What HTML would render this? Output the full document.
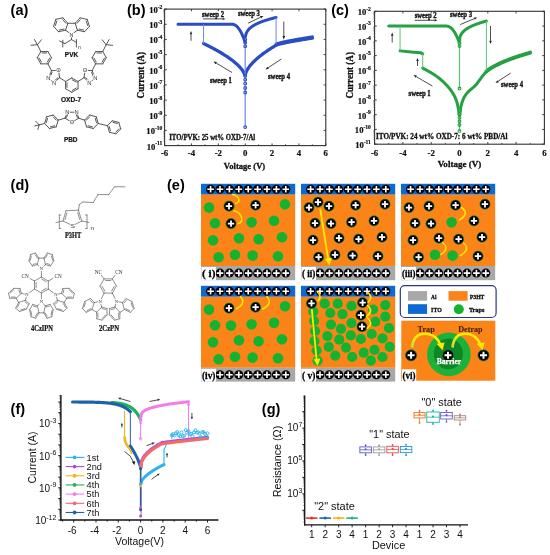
<!DOCTYPE html>
<html><head><meta charset="utf-8"><style>
html,body{margin:0;padding:0;background:#fff;}
svg{display:block;}
</style></head><body>
<svg width="550" height="555" viewBox="0 0 550 555">
<rect width="550" height="555" fill="#fff"/>
<text x="10.60" y="14.70" font-family='"Liberation Sans", Arial, sans-serif' font-size="14.5" font-weight="bold" text-anchor="start" fill="#000" >(a)</text>
<text x="127.00" y="14.70" font-family='"Liberation Sans", Arial, sans-serif' font-size="14.5" font-weight="bold" text-anchor="start" fill="#000" >(b)</text>
<text x="331.20" y="14.60" font-family='"Liberation Sans", Arial, sans-serif' font-size="14.5" font-weight="bold" text-anchor="start" fill="#000" >(c)</text>
<text x="10.60" y="189.70" font-family='"Liberation Sans", Arial, sans-serif' font-size="14.5" font-weight="bold" text-anchor="start" fill="#000" >(d)</text>
<text x="167.00" y="189.50" font-family='"Liberation Sans", Arial, sans-serif' font-size="14.5" font-weight="bold" text-anchor="start" fill="#000" >(e)</text>
<text x="10.60" y="413.80" font-family='"Liberation Sans", Arial, sans-serif' font-size="14.5" font-weight="bold" text-anchor="start" fill="#000" >(f)</text>
<text x="261.80" y="413.60" font-family='"Liberation Sans", Arial, sans-serif' font-size="14.5" font-weight="bold" text-anchor="start" fill="#000" >(g)</text>
<defs><g id="pc"><circle r="4.5" fill="#000"/><path d="M-3.3,0H3.3M0,-3.3V3.3" stroke="#fff" stroke-width="1.6"/></g><g id="pb"><circle r="5.1" fill="#000" stroke="#1b8a30" stroke-width="0.6"/><path d="M-3.2,0H3.2M0,-3.2V3.2" stroke="#fff" stroke-width="1.8"/></g><circle id="gc" r="5.3" fill="#14b231"/><linearGradient id="yg" x1="0" y1="0" x2="1" y2="0"><stop offset="0" stop-color="#d4ec50"/><stop offset="1" stop-color="#ffe600"/></linearGradient></defs>
<rect x="201.00" y="183.80" width="94.20" height="10.90" fill="#0d6ad2" />
<rect x="201.00" y="194.70" width="94.20" height="71.30" fill="#fb8419" />
<rect x="201.00" y="266.00" width="94.20" height="14.20" fill="#a8a8a8" />
<use href="#pc" x="210.60" y="189.25"/>
<use href="#pc" x="220.00" y="189.25"/>
<use href="#pc" x="229.40" y="189.25"/>
<use href="#pc" x="238.80" y="189.25"/>
<use href="#pc" x="248.20" y="189.25"/>
<use href="#pc" x="257.60" y="189.25"/>
<use href="#pc" x="267.00" y="189.25"/>
<use href="#pc" x="276.40" y="189.25"/>
<use href="#pc" x="285.80" y="189.25"/>
<use href="#pc" x="220.00" y="273.10"/>
<use href="#pc" x="229.40" y="273.10"/>
<use href="#pc" x="238.80" y="273.10"/>
<use href="#pc" x="248.20" y="273.10"/>
<use href="#pc" x="257.60" y="273.10"/>
<use href="#pc" x="267.00" y="273.10"/>
<use href="#pc" x="276.40" y="273.10"/>
<use href="#pc" x="285.80" y="273.10"/>
<rect x="201.40" y="267.00" width="14.60" height="13.20" fill="#fff" />
<rect x="301.00" y="183.80" width="94.20" height="10.90" fill="#0d6ad2" />
<rect x="301.00" y="194.70" width="94.20" height="71.30" fill="#fb8419" />
<rect x="301.00" y="266.00" width="94.20" height="14.20" fill="#a8a8a8" />
<use href="#pc" x="310.60" y="189.25"/>
<use href="#pc" x="320.00" y="189.25"/>
<use href="#pc" x="329.40" y="189.25"/>
<use href="#pc" x="338.80" y="189.25"/>
<use href="#pc" x="348.20" y="189.25"/>
<use href="#pc" x="357.60" y="189.25"/>
<use href="#pc" x="367.00" y="189.25"/>
<use href="#pc" x="376.40" y="189.25"/>
<use href="#pc" x="385.80" y="189.25"/>
<use href="#pc" x="320.00" y="273.10"/>
<use href="#pc" x="329.40" y="273.10"/>
<use href="#pc" x="338.80" y="273.10"/>
<use href="#pc" x="348.20" y="273.10"/>
<use href="#pc" x="357.60" y="273.10"/>
<use href="#pc" x="367.00" y="273.10"/>
<use href="#pc" x="376.40" y="273.10"/>
<use href="#pc" x="385.80" y="273.10"/>
<rect x="301.40" y="267.00" width="14.60" height="13.20" fill="#fff" />
<rect x="401.00" y="183.80" width="94.20" height="10.90" fill="#0d6ad2" />
<rect x="401.00" y="194.70" width="94.20" height="71.30" fill="#fb8419" />
<rect x="401.00" y="266.00" width="94.20" height="14.20" fill="#a8a8a8" />
<use href="#pc" x="410.60" y="189.25"/>
<use href="#pc" x="420.00" y="189.25"/>
<use href="#pc" x="429.40" y="189.25"/>
<use href="#pc" x="438.80" y="189.25"/>
<use href="#pc" x="448.20" y="189.25"/>
<use href="#pc" x="457.60" y="189.25"/>
<use href="#pc" x="467.00" y="189.25"/>
<use href="#pc" x="476.40" y="189.25"/>
<use href="#pc" x="485.80" y="189.25"/>
<use href="#pc" x="420.00" y="273.10"/>
<use href="#pc" x="429.40" y="273.10"/>
<use href="#pc" x="438.80" y="273.10"/>
<use href="#pc" x="448.20" y="273.10"/>
<use href="#pc" x="457.60" y="273.10"/>
<use href="#pc" x="467.00" y="273.10"/>
<use href="#pc" x="476.40" y="273.10"/>
<use href="#pc" x="485.80" y="273.10"/>
<rect x="401.40" y="267.00" width="14.60" height="13.20" fill="#fff" />
<rect x="201.00" y="285.80" width="94.20" height="11.00" fill="#0d6ad2" />
<rect x="201.00" y="296.80" width="94.20" height="71.00" fill="#fb8419" />
<rect x="201.00" y="367.80" width="94.20" height="13.80" fill="#a8a8a8" />
<use href="#pc" x="210.60" y="291.30"/>
<use href="#pc" x="220.00" y="291.30"/>
<use href="#pc" x="229.40" y="291.30"/>
<use href="#pc" x="238.80" y="291.30"/>
<use href="#pc" x="248.20" y="291.30"/>
<use href="#pc" x="257.60" y="291.30"/>
<use href="#pc" x="267.00" y="291.30"/>
<use href="#pc" x="276.40" y="291.30"/>
<use href="#pc" x="285.80" y="291.30"/>
<use href="#pc" x="220.00" y="374.70"/>
<use href="#pc" x="229.40" y="374.70"/>
<use href="#pc" x="238.80" y="374.70"/>
<use href="#pc" x="248.20" y="374.70"/>
<use href="#pc" x="257.60" y="374.70"/>
<use href="#pc" x="267.00" y="374.70"/>
<use href="#pc" x="276.40" y="374.70"/>
<use href="#pc" x="285.80" y="374.70"/>
<rect x="201.40" y="368.80" width="14.60" height="12.80" fill="#fff" />
<rect x="301.00" y="285.80" width="94.20" height="11.00" fill="#0d6ad2" />
<rect x="301.00" y="296.80" width="94.20" height="71.00" fill="#fb8419" />
<rect x="301.00" y="367.80" width="94.20" height="13.80" fill="#a8a8a8" />
<use href="#pc" x="310.60" y="291.30"/>
<use href="#pc" x="320.00" y="291.30"/>
<use href="#pc" x="329.40" y="291.30"/>
<use href="#pc" x="338.80" y="291.30"/>
<use href="#pc" x="348.20" y="291.30"/>
<use href="#pc" x="357.60" y="291.30"/>
<use href="#pc" x="367.00" y="291.30"/>
<use href="#pc" x="376.40" y="291.30"/>
<use href="#pc" x="385.80" y="291.30"/>
<use href="#pc" x="320.00" y="374.70"/>
<use href="#pc" x="329.40" y="374.70"/>
<use href="#pc" x="338.80" y="374.70"/>
<use href="#pc" x="348.20" y="374.70"/>
<use href="#pc" x="357.60" y="374.70"/>
<use href="#pc" x="367.00" y="374.70"/>
<use href="#pc" x="376.40" y="374.70"/>
<use href="#pc" x="385.80" y="374.70"/>
<rect x="301.40" y="368.80" width="14.60" height="12.80" fill="#fff" />
<text x="208.70" y="277.20" font-family='"Liberation Serif", "Times New Roman", serif' font-size="10.5" font-weight="bold" text-anchor="middle" fill="#000" stroke="#000" stroke-width="0.3" textLength="13.4" lengthAdjust="spacingAndGlyphs">( i)</text>
<text x="308.70" y="277.20" font-family='"Liberation Serif", "Times New Roman", serif' font-size="10.5" font-weight="bold" text-anchor="middle" fill="#000" stroke="#000" stroke-width="0.3" textLength="13.4" lengthAdjust="spacingAndGlyphs">( ii)</text>
<text x="408.70" y="277.20" font-family='"Liberation Serif", "Times New Roman", serif' font-size="10.5" font-weight="bold" text-anchor="middle" fill="#000" stroke="#000" stroke-width="0.3" textLength="13.4" lengthAdjust="spacingAndGlyphs">(iii)</text>
<text x="208.70" y="378.60" font-family='"Liberation Serif", "Times New Roman", serif' font-size="10.5" font-weight="bold" text-anchor="middle" fill="#000" stroke="#000" stroke-width="0.3" textLength="13.4" lengthAdjust="spacingAndGlyphs">(iv)</text>
<text x="308.70" y="378.60" font-family='"Liberation Serif", "Times New Roman", serif' font-size="10.5" font-weight="bold" text-anchor="middle" fill="#000" stroke="#000" stroke-width="0.3" textLength="13.4" lengthAdjust="spacingAndGlyphs">( v)</text>
<use href="#gc" x="209.00" y="207.60"/>
<use href="#gc" x="285.00" y="204.20"/>
<use href="#gc" x="215.00" y="223.20"/>
<use href="#gc" x="251.60" y="222.20"/>
<use href="#gc" x="274.00" y="220.80"/>
<use href="#gc" x="213.00" y="240.20"/>
<use href="#gc" x="239.00" y="238.20"/>
<use href="#gc" x="258.60" y="239.20"/>
<use href="#gc" x="282.00" y="237.20"/>
<use href="#gc" x="218.60" y="257.20"/>
<use href="#gc" x="235.00" y="254.80"/>
<use href="#gc" x="252.60" y="255.60"/>
<use href="#gc" x="278.00" y="256.20"/>
<use href="#pb" x="229.00" y="206.20"/>
<use href="#pb" x="231.00" y="223.60"/>
<use href="#pb" x="255.60" y="205.20"/>
<path d="M232.10,194.60 C239.10,195.60 242.00,202.50 235.00,203.50" stroke="#ffe800" stroke-width="1.5" fill="none"/>
<path d="M233.50,210.70 C241.50,211.70 245.50,222.80 237.50,223.80" stroke="#ffe800" stroke-width="1.5" fill="none"/>
<use href="#pb" x="309.00" y="207.60"/>
<use href="#pb" x="318.00" y="202.20"/>
<use href="#pb" x="329.00" y="206.20"/>
<use href="#pb" x="355.60" y="205.20"/>
<use href="#pb" x="385.00" y="204.20"/>
<use href="#pb" x="315.00" y="223.20"/>
<use href="#pb" x="331.00" y="223.60"/>
<use href="#pb" x="351.60" y="222.20"/>
<use href="#pb" x="374.00" y="220.80"/>
<use href="#pb" x="313.00" y="240.20"/>
<use href="#pb" x="339.00" y="238.20"/>
<use href="#pb" x="358.60" y="239.20"/>
<use href="#pb" x="382.00" y="237.20"/>
<use href="#pb" x="318.60" y="257.20"/>
<use href="#pb" x="335.00" y="254.80"/>
<use href="#pb" x="352.60" y="255.60"/>
<use href="#pb" x="378.00" y="256.20"/>
<use href="#gc" x="451.60" y="222.20"/>
<use href="#gc" x="435.00" y="254.80"/>
<use href="#gc" x="452.60" y="255.60"/>
<use href="#pb" x="409.00" y="207.60"/>
<use href="#pb" x="429.00" y="206.20"/>
<use href="#pb" x="455.60" y="205.20"/>
<use href="#pb" x="485.00" y="204.20"/>
<use href="#pb" x="415.00" y="223.20"/>
<use href="#pb" x="431.00" y="223.60"/>
<use href="#pb" x="474.00" y="220.80"/>
<use href="#pb" x="413.00" y="240.20"/>
<use href="#pb" x="439.00" y="238.20"/>
<use href="#pb" x="458.60" y="239.20"/>
<use href="#pb" x="482.00" y="237.20"/>
<use href="#pb" x="418.60" y="257.20"/>
<use href="#pb" x="478.00" y="256.20"/>
<use href="#gc" x="209.00" y="309.60"/>
<use href="#gc" x="285.00" y="306.20"/>
<use href="#gc" x="215.00" y="325.20"/>
<use href="#gc" x="231.00" y="325.60"/>
<use href="#gc" x="251.60" y="324.20"/>
<use href="#gc" x="274.00" y="322.80"/>
<use href="#gc" x="213.00" y="342.20"/>
<use href="#gc" x="239.00" y="340.20"/>
<use href="#gc" x="258.60" y="341.20"/>
<use href="#gc" x="282.00" y="339.20"/>
<use href="#gc" x="218.60" y="359.20"/>
<use href="#gc" x="235.00" y="356.80"/>
<use href="#gc" x="252.60" y="357.60"/>
<use href="#gc" x="278.00" y="358.20"/>
<use href="#pb" x="229.00" y="308.20"/>
<use href="#pb" x="255.60" y="307.20"/>
<path d="M461.50,207.50 Q470.00,213.50 459.50,220.00" stroke="#ffe800" stroke-width="1.6" fill="none" stroke-linecap="round"/>
<path d="M442.50,242.50 Q450.00,248.50 441.00,254.50" stroke="#ffe800" stroke-width="1.6" fill="none" stroke-linecap="round"/>
<path d="M463.50,243.00 Q471.00,249.00 460.50,255.50" stroke="#ffe800" stroke-width="1.6" fill="none" stroke-linecap="round"/>
<line x1="320.2" y1="208.5" x2="328.2" y2="259.5" stroke="#ffea00" stroke-width="1.8"/>
<polygon points="325.0,258.8 332.0,257.8 329.3,265.5" fill="#ffea00"/>
<path d="M240.50,296.60 Q246.50,303.50 236.40,308.80" stroke="#ffe800" stroke-width="1.6" fill="none" stroke-linecap="round"/>
<path d="M267.00,296.60 Q273.00,303.50 262.60,309.00" stroke="#ffe800" stroke-width="1.6" fill="none" stroke-linecap="round"/>
<circle cx="313.30" cy="311.60" r="5.1" fill="#14b231"/>
<circle cx="314.10" cy="321.00" r="5.1" fill="#14b231"/>
<circle cx="315.10" cy="331.00" r="5.1" fill="#14b231"/>
<circle cx="314.40" cy="341.20" r="5.1" fill="#14b231"/>
<circle cx="316.60" cy="350.50" r="5.1" fill="#14b231"/>
<circle cx="317.60" cy="360.60" r="5.1" fill="#14b231"/>
<circle cx="324.80" cy="303.70" r="5.1" fill="#14b231"/>
<circle cx="337.80" cy="303.70" r="5.1" fill="#14b231"/>
<circle cx="330.30" cy="313.00" r="5.1" fill="#14b231"/>
<circle cx="342.50" cy="314.20" r="5.1" fill="#14b231"/>
<circle cx="331.00" cy="324.60" r="5.1" fill="#14b231"/>
<circle cx="341.00" cy="328.90" r="5.1" fill="#14b231"/>
<circle cx="327.40" cy="336.10" r="5.1" fill="#14b231"/>
<circle cx="339.20" cy="339.70" r="5.1" fill="#14b231"/>
<circle cx="328.80" cy="346.90" r="5.1" fill="#14b231"/>
<circle cx="335.30" cy="355.60" r="5.1" fill="#14b231"/>
<circle cx="346.00" cy="347.60" r="5.1" fill="#14b231"/>
<circle cx="351.50" cy="305.90" r="5.1" fill="#14b231"/>
<circle cx="373.10" cy="309.50" r="5.1" fill="#14b231"/>
<circle cx="385.30" cy="305.10" r="5.1" fill="#14b231"/>
<circle cx="375.30" cy="321.70" r="5.1" fill="#14b231"/>
<circle cx="385.30" cy="316.70" r="5.1" fill="#14b231"/>
<circle cx="351.50" cy="323.10" r="5.1" fill="#14b231"/>
<circle cx="389.00" cy="328.20" r="5.1" fill="#14b231"/>
<circle cx="350.80" cy="335.40" r="5.1" fill="#14b231"/>
<circle cx="360.90" cy="339.00" r="5.1" fill="#14b231"/>
<circle cx="371.70" cy="334.00" r="5.1" fill="#14b231"/>
<circle cx="382.50" cy="338.30" r="5.1" fill="#14b231"/>
<circle cx="363.70" cy="352.70" r="5.1" fill="#14b231"/>
<circle cx="374.50" cy="349.80" r="5.1" fill="#14b231"/>
<circle cx="389.70" cy="346.90" r="5.1" fill="#14b231"/>
<circle cx="352.20" cy="357.00" r="5.1" fill="#14b231"/>
<circle cx="370.90" cy="360.60" r="5.1" fill="#14b231"/>
<circle cx="382.50" cy="357.00" r="5.1" fill="#14b231"/>
<use href="#pb" x="311.50" y="303.30"/>
<use href="#pb" x="362.60" y="302.70"/>
<use href="#pb" x="360.90" y="315.20"/>
<use href="#pb" x="362.00" y="326.70"/>
<line x1="311.8" y1="309" x2="316.6" y2="360" stroke="#ffea00" stroke-width="1.8"/>
<polygon points="313.6,359.2 320.4,358.6 317.6,366.0" fill="#ffea00"/>
<path d="M317.30,292.00 Q322.50,296.50 318.00,300.80" stroke="#ffe800" stroke-width="1.6" fill="none" stroke-linecap="round"/>
<path d="M368.00,292.60 Q373.50,297.50 368.00,302.20" stroke="#ffe800" stroke-width="1.6" fill="none" stroke-linecap="round"/>
<path d="M367.50,305.50 Q374.00,311.00 366.80,316.20" stroke="#ffe800" stroke-width="1.6" fill="none" stroke-linecap="round"/>
<path d="M367.50,318.00 Q374.00,323.50 367.20,328.20" stroke="#ffe800" stroke-width="1.6" fill="none" stroke-linecap="round"/>
<rect x="400.3" y="285.6" width="95.8" height="31.9" rx="4.5" ry="4.5" fill="#fff" stroke="#2b3590" stroke-width="1.2"/>
<rect x="408.00" y="291.10" width="19.10" height="9.60" fill="#a8a8a8" />
<rect x="448.50" y="291.10" width="19.10" height="9.60" fill="#fb8419" />
<rect x="408.00" y="304.20" width="19.10" height="9.70" fill="#0d6ad2" />
<circle cx="458.80" cy="309.20" r="5.00" fill="#14b231" />
<text x="431.10" y="298.90" font-family='"Liberation Serif", "Times New Roman", serif' font-size="7.0" font-weight="bold" text-anchor="start" fill="#111" stroke="#000" stroke-width="0.3" textLength="5.4" lengthAdjust="spacingAndGlyphs">Al</text>
<text x="469.80" y="298.90" font-family='"Liberation Serif", "Times New Roman", serif' font-size="7.0" font-weight="bold" text-anchor="start" fill="#111" stroke="#000" stroke-width="0.3" textLength="14.6" lengthAdjust="spacingAndGlyphs">P3HT</text>
<text x="431.10" y="312.00" font-family='"Liberation Serif", "Times New Roman", serif' font-size="7.0" font-weight="bold" text-anchor="start" fill="#111" stroke="#000" stroke-width="0.3" textLength="10.7" lengthAdjust="spacingAndGlyphs">ITO</text>
<text x="468.90" y="312.00" font-family='"Liberation Serif", "Times New Roman", serif' font-size="7.0" font-weight="bold" text-anchor="start" fill="#111" stroke="#000" stroke-width="0.3" textLength="15.5" lengthAdjust="spacingAndGlyphs">Traps</text>
<rect x="401.30" y="320.70" width="94.00" height="60.00" fill="#fb8419" />
<rect x="402.00" y="369.30" width="14.20" height="11.40" fill="#fff" />
<text x="409.10" y="378.70" font-family='"Liberation Serif", "Times New Roman", serif' font-size="10.5" font-weight="bold" text-anchor="middle" fill="#000" stroke="#000" stroke-width="0.3" textLength="13.0" lengthAdjust="spacingAndGlyphs">(vi)</text>
<circle cx="448.90" cy="354.40" r="21.80" fill="#1cb23a" />
<ellipse cx="448.3" cy="353.8" rx="14.6" ry="15.4" fill="#0f8526"/>
<g transform="translate(411.10,355.3) scale(1.1)"><use href="#pb"/></g>
<g transform="translate(448.00,355.3) scale(1.1)"><use href="#pb"/></g>
<g transform="translate(483.50,355.3) scale(1.1)"><use href="#pb"/></g>
<text x="448.90" y="363.80" font-family='"Liberation Serif", "Times New Roman", serif' font-size="8.0" font-weight="bold" text-anchor="middle" fill="#fff" stroke="#fff" stroke-width="0.25" textLength="24.5" lengthAdjust="spacingAndGlyphs">Barrier</text>
<text x="426.20" y="331.60" font-family='"Liberation Serif", "Times New Roman", serif' font-size="8" font-weight="bold" text-anchor="middle" fill="#3a1a00" textLength="17.3" lengthAdjust="spacingAndGlyphs">Trap</text>
<text x="470.40" y="331.60" font-family='"Liberation Serif", "Times New Roman", serif' font-size="8" font-weight="bold" text-anchor="middle" fill="#3a1a00" textLength="24.5" lengthAdjust="spacingAndGlyphs">Detrap</text>
<linearGradient id="yg2" x1="0" y1="1" x2="1" y2="0"><stop offset="0" stop-color="#c8e03c"/><stop offset="0.6" stop-color="#ffee00"/></linearGradient>
<path d="M412.0,347.5 Q413.5,333 426,333.8 Q436,334.5 440.5,344.5" stroke="url(#yg2)" stroke-width="2.6" fill="none"/>
<polygon points="436.4,343.8 444.6,342.6 442.6,350.2" fill="#ffe900"/>
<path d="M452.5,347.5 Q454,333 466.5,333.8 Q476,334.5 480.5,344.5" stroke="url(#yg2)" stroke-width="2.6" fill="none"/>
<polygon points="476.4,343.8 484.6,342.6 482.6,350.2" fill="#ffe900"/>
<rect x="164.60" y="9.10" width="161.20" height="136.50" fill="none" stroke="#333" stroke-width="1.1"/>
<line x1="164.60" y1="9.10" x2="166.80" y2="9.10" stroke="#333" stroke-width="0.9" />
<line x1="325.80" y1="9.10" x2="323.60" y2="9.10" stroke="#333" stroke-width="0.9" />
<line x1="163.40" y1="19.70" x2="164.60" y2="19.70" stroke="#555" stroke-width="0.6" />
<line x1="163.40" y1="17.03" x2="164.60" y2="17.03" stroke="#555" stroke-width="0.6" />
<line x1="163.40" y1="15.14" x2="164.60" y2="15.14" stroke="#555" stroke-width="0.6" />
<line x1="163.40" y1="13.67" x2="164.60" y2="13.67" stroke="#555" stroke-width="0.6" />
<line x1="163.40" y1="12.46" x2="164.60" y2="12.46" stroke="#555" stroke-width="0.6" />
<line x1="163.40" y1="11.45" x2="164.60" y2="11.45" stroke="#555" stroke-width="0.6" />
<line x1="163.40" y1="10.57" x2="164.60" y2="10.57" stroke="#555" stroke-width="0.6" />
<line x1="163.40" y1="9.79" x2="164.60" y2="9.79" stroke="#555" stroke-width="0.6" />
<text x="162.40" y="13.10" font-family='"Liberation Serif", "Times New Roman", serif' font-size="8.6" font-weight="bold" text-anchor="end" fill="#111" stroke="#111" stroke-width="0.2">10<tspan dy="-4.6" font-size="5.6">-2</tspan></text>
<line x1="164.60" y1="24.27" x2="166.80" y2="24.27" stroke="#333" stroke-width="0.9" />
<line x1="325.80" y1="24.27" x2="323.60" y2="24.27" stroke="#333" stroke-width="0.9" />
<line x1="163.40" y1="34.87" x2="164.60" y2="34.87" stroke="#555" stroke-width="0.6" />
<line x1="163.40" y1="32.20" x2="164.60" y2="32.20" stroke="#555" stroke-width="0.6" />
<line x1="163.40" y1="30.30" x2="164.60" y2="30.30" stroke="#555" stroke-width="0.6" />
<line x1="163.40" y1="28.83" x2="164.60" y2="28.83" stroke="#555" stroke-width="0.6" />
<line x1="163.40" y1="27.63" x2="164.60" y2="27.63" stroke="#555" stroke-width="0.6" />
<line x1="163.40" y1="26.62" x2="164.60" y2="26.62" stroke="#555" stroke-width="0.6" />
<line x1="163.40" y1="25.74" x2="164.60" y2="25.74" stroke="#555" stroke-width="0.6" />
<line x1="163.40" y1="24.96" x2="164.60" y2="24.96" stroke="#555" stroke-width="0.6" />
<text x="162.40" y="28.27" font-family='"Liberation Serif", "Times New Roman", serif' font-size="8.6" font-weight="bold" text-anchor="end" fill="#111" stroke="#111" stroke-width="0.2">10<tspan dy="-4.6" font-size="5.6">-3</tspan></text>
<line x1="164.60" y1="39.43" x2="166.80" y2="39.43" stroke="#333" stroke-width="0.9" />
<line x1="325.80" y1="39.43" x2="323.60" y2="39.43" stroke="#333" stroke-width="0.9" />
<line x1="163.40" y1="50.03" x2="164.60" y2="50.03" stroke="#555" stroke-width="0.6" />
<line x1="163.40" y1="47.36" x2="164.60" y2="47.36" stroke="#555" stroke-width="0.6" />
<line x1="163.40" y1="45.47" x2="164.60" y2="45.47" stroke="#555" stroke-width="0.6" />
<line x1="163.40" y1="44.00" x2="164.60" y2="44.00" stroke="#555" stroke-width="0.6" />
<line x1="163.40" y1="42.80" x2="164.60" y2="42.80" stroke="#555" stroke-width="0.6" />
<line x1="163.40" y1="41.78" x2="164.60" y2="41.78" stroke="#555" stroke-width="0.6" />
<line x1="163.40" y1="40.90" x2="164.60" y2="40.90" stroke="#555" stroke-width="0.6" />
<line x1="163.40" y1="40.13" x2="164.60" y2="40.13" stroke="#555" stroke-width="0.6" />
<text x="162.40" y="43.43" font-family='"Liberation Serif", "Times New Roman", serif' font-size="8.6" font-weight="bold" text-anchor="end" fill="#111" stroke="#111" stroke-width="0.2">10<tspan dy="-4.6" font-size="5.6">-4</tspan></text>
<line x1="164.60" y1="54.60" x2="166.80" y2="54.60" stroke="#333" stroke-width="0.9" />
<line x1="325.80" y1="54.60" x2="323.60" y2="54.60" stroke="#333" stroke-width="0.9" />
<line x1="163.40" y1="65.20" x2="164.60" y2="65.20" stroke="#555" stroke-width="0.6" />
<line x1="163.40" y1="62.53" x2="164.60" y2="62.53" stroke="#555" stroke-width="0.6" />
<line x1="163.40" y1="60.64" x2="164.60" y2="60.64" stroke="#555" stroke-width="0.6" />
<line x1="163.40" y1="59.17" x2="164.60" y2="59.17" stroke="#555" stroke-width="0.6" />
<line x1="163.40" y1="57.96" x2="164.60" y2="57.96" stroke="#555" stroke-width="0.6" />
<line x1="163.40" y1="56.95" x2="164.60" y2="56.95" stroke="#555" stroke-width="0.6" />
<line x1="163.40" y1="56.07" x2="164.60" y2="56.07" stroke="#555" stroke-width="0.6" />
<line x1="163.40" y1="55.29" x2="164.60" y2="55.29" stroke="#555" stroke-width="0.6" />
<text x="162.40" y="58.60" font-family='"Liberation Serif", "Times New Roman", serif' font-size="8.6" font-weight="bold" text-anchor="end" fill="#111" stroke="#111" stroke-width="0.2">10<tspan dy="-4.6" font-size="5.6">-5</tspan></text>
<line x1="164.60" y1="69.77" x2="166.80" y2="69.77" stroke="#333" stroke-width="0.9" />
<line x1="325.80" y1="69.77" x2="323.60" y2="69.77" stroke="#333" stroke-width="0.9" />
<line x1="163.40" y1="80.37" x2="164.60" y2="80.37" stroke="#555" stroke-width="0.6" />
<line x1="163.40" y1="77.70" x2="164.60" y2="77.70" stroke="#555" stroke-width="0.6" />
<line x1="163.40" y1="75.80" x2="164.60" y2="75.80" stroke="#555" stroke-width="0.6" />
<line x1="163.40" y1="74.33" x2="164.60" y2="74.33" stroke="#555" stroke-width="0.6" />
<line x1="163.40" y1="73.13" x2="164.60" y2="73.13" stroke="#555" stroke-width="0.6" />
<line x1="163.40" y1="72.12" x2="164.60" y2="72.12" stroke="#555" stroke-width="0.6" />
<line x1="163.40" y1="71.24" x2="164.60" y2="71.24" stroke="#555" stroke-width="0.6" />
<line x1="163.40" y1="70.46" x2="164.60" y2="70.46" stroke="#555" stroke-width="0.6" />
<text x="162.40" y="73.77" font-family='"Liberation Serif", "Times New Roman", serif' font-size="8.6" font-weight="bold" text-anchor="end" fill="#111" stroke="#111" stroke-width="0.2">10<tspan dy="-4.6" font-size="5.6">-6</tspan></text>
<line x1="164.60" y1="84.93" x2="166.80" y2="84.93" stroke="#333" stroke-width="0.9" />
<line x1="325.80" y1="84.93" x2="323.60" y2="84.93" stroke="#333" stroke-width="0.9" />
<line x1="163.40" y1="95.53" x2="164.60" y2="95.53" stroke="#555" stroke-width="0.6" />
<line x1="163.40" y1="92.86" x2="164.60" y2="92.86" stroke="#555" stroke-width="0.6" />
<line x1="163.40" y1="90.97" x2="164.60" y2="90.97" stroke="#555" stroke-width="0.6" />
<line x1="163.40" y1="89.50" x2="164.60" y2="89.50" stroke="#555" stroke-width="0.6" />
<line x1="163.40" y1="88.30" x2="164.60" y2="88.30" stroke="#555" stroke-width="0.6" />
<line x1="163.40" y1="87.28" x2="164.60" y2="87.28" stroke="#555" stroke-width="0.6" />
<line x1="163.40" y1="86.40" x2="164.60" y2="86.40" stroke="#555" stroke-width="0.6" />
<line x1="163.40" y1="85.63" x2="164.60" y2="85.63" stroke="#555" stroke-width="0.6" />
<text x="162.40" y="88.93" font-family='"Liberation Serif", "Times New Roman", serif' font-size="8.6" font-weight="bold" text-anchor="end" fill="#111" stroke="#111" stroke-width="0.2">10<tspan dy="-4.6" font-size="5.6">-7</tspan></text>
<line x1="164.60" y1="100.10" x2="166.80" y2="100.10" stroke="#333" stroke-width="0.9" />
<line x1="325.80" y1="100.10" x2="323.60" y2="100.10" stroke="#333" stroke-width="0.9" />
<line x1="163.40" y1="110.70" x2="164.60" y2="110.70" stroke="#555" stroke-width="0.6" />
<line x1="163.40" y1="108.03" x2="164.60" y2="108.03" stroke="#555" stroke-width="0.6" />
<line x1="163.40" y1="106.14" x2="164.60" y2="106.14" stroke="#555" stroke-width="0.6" />
<line x1="163.40" y1="104.67" x2="164.60" y2="104.67" stroke="#555" stroke-width="0.6" />
<line x1="163.40" y1="103.46" x2="164.60" y2="103.46" stroke="#555" stroke-width="0.6" />
<line x1="163.40" y1="102.45" x2="164.60" y2="102.45" stroke="#555" stroke-width="0.6" />
<line x1="163.40" y1="101.57" x2="164.60" y2="101.57" stroke="#555" stroke-width="0.6" />
<line x1="163.40" y1="100.79" x2="164.60" y2="100.79" stroke="#555" stroke-width="0.6" />
<text x="162.40" y="104.10" font-family='"Liberation Serif", "Times New Roman", serif' font-size="8.6" font-weight="bold" text-anchor="end" fill="#111" stroke="#111" stroke-width="0.2">10<tspan dy="-4.6" font-size="5.6">-8</tspan></text>
<line x1="164.60" y1="115.27" x2="166.80" y2="115.27" stroke="#333" stroke-width="0.9" />
<line x1="325.80" y1="115.27" x2="323.60" y2="115.27" stroke="#333" stroke-width="0.9" />
<line x1="163.40" y1="125.87" x2="164.60" y2="125.87" stroke="#555" stroke-width="0.6" />
<line x1="163.40" y1="123.20" x2="164.60" y2="123.20" stroke="#555" stroke-width="0.6" />
<line x1="163.40" y1="121.30" x2="164.60" y2="121.30" stroke="#555" stroke-width="0.6" />
<line x1="163.40" y1="119.83" x2="164.60" y2="119.83" stroke="#555" stroke-width="0.6" />
<line x1="163.40" y1="118.63" x2="164.60" y2="118.63" stroke="#555" stroke-width="0.6" />
<line x1="163.40" y1="117.62" x2="164.60" y2="117.62" stroke="#555" stroke-width="0.6" />
<line x1="163.40" y1="116.74" x2="164.60" y2="116.74" stroke="#555" stroke-width="0.6" />
<line x1="163.40" y1="115.96" x2="164.60" y2="115.96" stroke="#555" stroke-width="0.6" />
<text x="162.40" y="119.27" font-family='"Liberation Serif", "Times New Roman", serif' font-size="8.6" font-weight="bold" text-anchor="end" fill="#111" stroke="#111" stroke-width="0.2">10<tspan dy="-4.6" font-size="5.6">-9</tspan></text>
<line x1="164.60" y1="130.43" x2="166.80" y2="130.43" stroke="#333" stroke-width="0.9" />
<line x1="325.80" y1="130.43" x2="323.60" y2="130.43" stroke="#333" stroke-width="0.9" />
<line x1="163.40" y1="141.03" x2="164.60" y2="141.03" stroke="#555" stroke-width="0.6" />
<line x1="163.40" y1="138.36" x2="164.60" y2="138.36" stroke="#555" stroke-width="0.6" />
<line x1="163.40" y1="136.47" x2="164.60" y2="136.47" stroke="#555" stroke-width="0.6" />
<line x1="163.40" y1="135.00" x2="164.60" y2="135.00" stroke="#555" stroke-width="0.6" />
<line x1="163.40" y1="133.80" x2="164.60" y2="133.80" stroke="#555" stroke-width="0.6" />
<line x1="163.40" y1="132.78" x2="164.60" y2="132.78" stroke="#555" stroke-width="0.6" />
<line x1="163.40" y1="131.90" x2="164.60" y2="131.90" stroke="#555" stroke-width="0.6" />
<line x1="163.40" y1="131.13" x2="164.60" y2="131.13" stroke="#555" stroke-width="0.6" />
<text x="162.40" y="134.43" font-family='"Liberation Serif", "Times New Roman", serif' font-size="8.6" font-weight="bold" text-anchor="end" fill="#111" stroke="#111" stroke-width="0.2">10<tspan dy="-4.6" font-size="5.6">-10</tspan></text>
<line x1="164.60" y1="145.60" x2="166.80" y2="145.60" stroke="#333" stroke-width="0.9" />
<line x1="325.80" y1="145.60" x2="323.60" y2="145.60" stroke="#333" stroke-width="0.9" />
<text x="162.40" y="149.60" font-family='"Liberation Serif", "Times New Roman", serif' font-size="8.6" font-weight="bold" text-anchor="end" fill="#111" stroke="#111" stroke-width="0.2">10<tspan dy="-4.6" font-size="5.6">-11</tspan></text>
<line x1="164.60" y1="145.60" x2="164.60" y2="143.40" stroke="#333" stroke-width="0.9" />
<line x1="164.60" y1="9.10" x2="164.60" y2="11.30" stroke="#333" stroke-width="0.9" />
<text x="164.60" y="156.00" font-family='"Liberation Serif", "Times New Roman", serif' font-size="8.8" font-weight="bold" text-anchor="middle" fill="#111" stroke="#111" stroke-width="0.2">-6</text>
<line x1="191.47" y1="145.60" x2="191.47" y2="143.40" stroke="#333" stroke-width="0.9" />
<line x1="191.47" y1="9.10" x2="191.47" y2="11.30" stroke="#333" stroke-width="0.9" />
<text x="191.47" y="156.00" font-family='"Liberation Serif", "Times New Roman", serif' font-size="8.8" font-weight="bold" text-anchor="middle" fill="#111" stroke="#111" stroke-width="0.2">-4</text>
<line x1="218.33" y1="145.60" x2="218.33" y2="143.40" stroke="#333" stroke-width="0.9" />
<line x1="218.33" y1="9.10" x2="218.33" y2="11.30" stroke="#333" stroke-width="0.9" />
<text x="218.33" y="156.00" font-family='"Liberation Serif", "Times New Roman", serif' font-size="8.8" font-weight="bold" text-anchor="middle" fill="#111" stroke="#111" stroke-width="0.2">-2</text>
<line x1="245.20" y1="145.60" x2="245.20" y2="143.40" stroke="#333" stroke-width="0.9" />
<line x1="245.20" y1="9.10" x2="245.20" y2="11.30" stroke="#333" stroke-width="0.9" />
<text x="245.20" y="156.00" font-family='"Liberation Serif", "Times New Roman", serif' font-size="8.8" font-weight="bold" text-anchor="middle" fill="#111" stroke="#111" stroke-width="0.2">0</text>
<line x1="272.07" y1="145.60" x2="272.07" y2="143.40" stroke="#333" stroke-width="0.9" />
<line x1="272.07" y1="9.10" x2="272.07" y2="11.30" stroke="#333" stroke-width="0.9" />
<text x="272.07" y="156.00" font-family='"Liberation Serif", "Times New Roman", serif' font-size="8.8" font-weight="bold" text-anchor="middle" fill="#111" stroke="#111" stroke-width="0.2">2</text>
<line x1="298.93" y1="145.60" x2="298.93" y2="143.40" stroke="#333" stroke-width="0.9" />
<line x1="298.93" y1="9.10" x2="298.93" y2="11.30" stroke="#333" stroke-width="0.9" />
<text x="298.93" y="156.00" font-family='"Liberation Serif", "Times New Roman", serif' font-size="8.8" font-weight="bold" text-anchor="middle" fill="#111" stroke="#111" stroke-width="0.2">4</text>
<line x1="325.80" y1="145.60" x2="325.80" y2="143.40" stroke="#333" stroke-width="0.9" />
<line x1="325.80" y1="9.10" x2="325.80" y2="11.30" stroke="#333" stroke-width="0.9" />
<text x="325.80" y="156.00" font-family='"Liberation Serif", "Times New Roman", serif' font-size="8.8" font-weight="bold" text-anchor="middle" fill="#111" stroke="#111" stroke-width="0.2">6</text>
<line x1="178.03" y1="145.60" x2="178.03" y2="144.30" stroke="#333" stroke-width="0.8" />
<line x1="204.90" y1="145.60" x2="204.90" y2="144.30" stroke="#333" stroke-width="0.8" />
<line x1="231.77" y1="145.60" x2="231.77" y2="144.30" stroke="#333" stroke-width="0.8" />
<line x1="258.63" y1="145.60" x2="258.63" y2="144.30" stroke="#333" stroke-width="0.8" />
<line x1="285.50" y1="145.60" x2="285.50" y2="144.30" stroke="#333" stroke-width="0.8" />
<line x1="312.37" y1="145.60" x2="312.37" y2="144.30" stroke="#333" stroke-width="0.8" />
<text x="244.50" y="168.70" font-family='"Liberation Serif", "Times New Roman", serif' font-size="9.0" font-weight="bold" text-anchor="middle" fill="#111" stroke="#111" stroke-width="0.3" textLength="41.4" lengthAdjust="spacingAndGlyphs">Voltage (V)</text>
<text transform="translate(143.50,75.20) rotate(-90)" x="0" y="0" font-family='"Liberation Serif", "Times New Roman", serif' font-size="9.6" font-weight="bold" text-anchor="middle" fill="#111" stroke="#111" stroke-width="0.3" textLength="46.4" lengthAdjust="spacingAndGlyphs">Current (A)</text>
<polyline points="178.03,24.27 178.70,24.27 179.37,24.27 180.04,24.27 180.71,24.27 181.38,24.27 182.05,24.27 182.72,24.27 183.39,24.27 184.05,24.27 184.72,24.27 185.39,24.27 186.06,24.27 186.73,24.27 187.40,24.27 188.07,24.27 188.74,24.27 189.41,24.27 190.07,24.27 190.74,24.27 191.41,24.27 192.08,24.27 192.75,24.27 193.42,24.27 194.09,24.27 194.76,24.27 195.43,24.27 196.10,24.27 196.76,24.27 197.43,24.27 198.10,24.27 198.77,24.27 199.44,24.27 200.11,24.27 200.78,24.27 201.45,24.27 202.12,24.27 202.79,24.27 203.45,24.27 204.12,24.27 204.79,24.27 205.46,24.27 206.13,24.27 206.80,24.27 207.47,24.27 208.14,24.27 208.81,24.27 209.48,24.27 210.14,24.27 210.81,24.27 211.48,24.27 212.15,24.27 212.82,24.27 213.49,24.27 214.16,24.27 214.83,24.27 215.50,24.27 216.17,24.27 216.83,24.27 217.50,24.27 218.17,24.27 218.84,24.27 219.51,24.27 220.18,24.27 220.85,24.27 221.52,24.27 222.19,24.27 222.85,24.27 223.52,24.27 224.19,24.27 224.86,24.27 225.53,24.27 226.20,24.27 226.87,24.27 227.54,24.27 228.21,24.27 228.88,24.27 229.54,24.27 230.21,24.27 230.88,24.27 231.55,24.27 232.22,24.28 232.89,24.34 233.56,24.48 234.23,24.70 234.90,25.01 235.57,25.40 236.23,25.88 236.90,26.46 237.57,27.14 238.24,27.92 238.91,28.80 239.58,29.79 240.25,30.88 240.92,32.09 241.59,33.40 242.26,34.83 242.92,36.37 243.59,38.02 244.26,39.79 244.93,41.68" stroke="#2b4dc4" stroke-width="3.0" fill="none" stroke-linecap="round" stroke-linejoin="round"/>
<polyline points="245.47,36.44 245.77,34.89 246.08,33.86 246.39,33.05 246.69,32.38 247.00,31.80 247.31,31.29 247.61,30.82 247.92,30.40 248.23,30.00 248.53,29.64 248.84,29.29 249.14,28.97 249.45,28.67 249.76,28.37 250.06,28.10 250.37,27.83 250.68,27.58 250.98,27.33 251.29,27.09 251.59,26.87 251.90,26.65 252.21,26.43 252.51,26.22 252.82,26.02 253.13,25.83 253.43,25.64 253.74,25.45 254.04,25.27 254.35,25.10 254.66,24.92 254.96,24.75 255.27,24.59 255.58,24.43 255.88,24.27 256.19,24.11 256.49,23.96 256.80,23.81 257.11,23.67 257.41,23.52 257.72,23.38 258.03,23.24 258.33,23.11 258.64,22.97 258.94,22.84 259.25,22.71 259.56,22.58 259.86,22.46 260.17,22.33 260.48,22.21 260.78,22.09 261.09,21.97 261.40,21.85 261.70,21.73 262.01,21.62 262.31,21.51 262.62,21.39 262.93,21.28 263.23,21.17 263.54,21.07 263.85,20.96 264.15,20.85 264.46,20.75 264.76,20.65 265.07,20.55 265.38,20.44 265.68,20.34 265.99,20.25 266.30,20.15 266.60,20.05 266.91,19.96 267.21,19.86 267.52,19.77 267.83,19.67 268.13,19.58 268.44,19.49 268.75,19.40 269.05,19.31 269.36,19.22 269.66,19.13 269.97,19.05 270.28,18.96 270.58,18.87 270.89,18.79 271.20,18.71 271.50,18.62 271.81,18.54 272.12,18.46 272.42,18.37 272.73,18.29 273.03,18.21 273.34,18.13 273.65,18.05 273.95,17.98 274.26,17.90 274.57,17.82 274.87,17.74 275.18,17.67 275.48,17.59 275.79,17.52 276.10,17.44" stroke="#2b4dc4" stroke-width="3.0" fill="none" stroke-linecap="round" stroke-linejoin="round"/>
<polyline points="203.56,43.53 203.97,43.73 204.38,43.93 204.80,44.13 205.21,44.33 205.63,44.53 206.04,44.74 206.45,44.94 206.87,45.15 207.28,45.35 207.69,45.56 208.11,45.77 208.52,45.98 208.94,46.19 209.35,46.40 209.76,46.61 210.18,46.82 210.59,47.03 211.00,47.25 211.42,47.46 211.83,47.68 212.25,47.90 212.66,48.12 213.07,48.34 213.49,48.56 213.90,48.78 214.31,49.01 214.73,49.23 215.14,49.46 215.56,49.68 215.97,49.91 216.38,50.14 216.80,50.37 217.21,50.61 217.62,50.84 218.04,51.07 218.45,51.31 218.87,51.55 219.28,51.79 219.69,52.03 220.11,52.27 220.52,52.52 220.93,52.76 221.35,53.01 221.76,53.26 222.18,53.51 222.59,53.76 223.00,54.02 223.42,54.28 223.83,54.54 224.24,54.80 224.66,55.06 225.07,55.32 225.49,55.59 225.90,55.86 226.31,56.13 226.73,56.41 227.14,56.68 227.55,56.96 227.97,57.24 228.38,57.53 228.80,57.82 229.21,58.11 229.62,58.40 230.04,58.70 230.45,58.99 230.86,59.30 231.28,59.60 231.69,59.91 232.11,60.23 232.52,60.55 232.93,60.87 233.35,61.20 233.76,61.53 234.17,61.86 234.59,62.20 235.00,62.55 235.42,62.90 235.83,63.26 236.24,63.62 236.66,64.00 237.07,64.37 237.48,64.76 237.90,65.16 238.31,65.56 238.73,65.97 239.14,66.40 239.55,66.83 239.97,67.28 240.38,67.75 240.79,68.22 241.21,68.72 241.62,69.24 242.04,69.79 242.45,70.36 242.86,70.97 243.28,71.62 243.69,72.34 244.10,73.13 244.52,74.06 244.93,75.28" stroke="#2b4dc4" stroke-width="3.3" fill="none" stroke-linecap="round" stroke-linejoin="round"/>
<polyline points="245.47,74.06 246.14,72.07 246.81,70.64 247.48,69.43 248.14,68.36 248.81,67.38 249.48,66.47 250.15,65.62 250.82,64.81 251.49,64.04 252.16,63.31 252.83,62.60 253.50,61.91 254.17,61.25 254.83,60.61 255.50,59.98 256.17,59.37 256.84,58.78 257.51,58.20 258.18,57.63 258.85,57.07 259.52,56.52 260.19,55.99 260.86,55.46 261.52,54.94 262.19,54.43 262.86,53.93 263.53,53.44 264.20,52.95 264.87,52.47 265.54,51.99 266.21,51.53 266.88,51.07 267.55,50.61 268.21,50.16 268.88,49.71 269.55,49.27 270.22,48.84 270.89,48.41 271.56,47.98 272.23,47.56 272.90,47.14 273.57,46.73 274.23,46.32 274.90,45.91 275.57,45.51 276.24,45.11 276.91,44.85 277.58,44.64 278.25,44.45 278.92,44.27 279.59,44.10 280.26,43.94 280.92,43.78 281.59,43.62 282.26,43.47 282.93,43.32 283.60,43.18 284.27,43.03 284.94,42.89 285.61,42.75 286.28,42.62 286.95,42.48 287.61,42.35 288.28,42.22 288.95,42.09 289.62,41.96 290.29,41.83 290.96,41.71 291.63,41.58 292.30,41.46 292.97,41.33 293.64,41.21 294.30,41.09 294.97,40.97 295.64,40.85 296.31,40.73 296.98,40.61 297.65,40.50 298.32,40.38 298.99,40.26 299.66,40.15 300.33,40.03 300.99,39.92 301.66,39.81 302.33,39.70 303.00,39.58 303.67,39.47 304.34,39.36 305.01,39.25 305.68,39.14 306.35,39.03 307.01,38.92 307.68,38.81 308.35,38.71 309.02,38.60 309.69,38.49 310.36,38.39 311.03,38.28 311.70,38.17 312.37,38.07" stroke="#2b4dc4" stroke-width="3.3" fill="none" stroke-linecap="round" stroke-linejoin="round"/>
<polyline points="276.10,43.98 277.00,43.61 277.91,43.33 278.82,43.09 279.72,42.85 280.63,42.63 281.54,42.42 282.44,42.22 283.35,42.02 284.26,41.82 285.16,41.63 286.07,41.45 286.98,41.26 287.88,41.08 288.79,40.91 289.70,40.73 290.60,40.56 291.51,40.39 292.42,40.22 293.32,40.05 294.23,39.89 295.14,39.73 296.05,39.56 296.95,39.40 297.86,39.25 298.77,39.09 299.67,38.93 300.58,38.78 301.49,38.62 302.39,38.47 303.30,38.32 304.21,38.17 305.11,38.02 306.02,37.87 306.93,37.72 307.83,37.58 308.74,37.43 309.65,37.29 310.55,37.14 311.46,37.00 312.37,36.86" stroke="#2b4dc4" stroke-width="3.0" fill="none" stroke-linecap="round"/>
<line x1="203.56" y1="24.27" x2="203.56" y2="43.53" stroke="#6f86e6" stroke-width="1.0" />
<line x1="276.10" y1="17.44" x2="276.10" y2="43.98" stroke="#6f86e6" stroke-width="1.0" />
<line x1="245.20" y1="42.47" x2="245.20" y2="127.40" stroke="#6f86e6" stroke-width="1.2" />
<circle cx="245.20" cy="39.43" r="1.4" fill="none" stroke="#2b4dc4" stroke-width="1.1"/>
<circle cx="245.20" cy="42.47" r="1.4" fill="none" stroke="#2b4dc4" stroke-width="1.1"/>
<circle cx="245.20" cy="46.26" r="1.4" fill="none" stroke="#2b4dc4" stroke-width="1.1"/>
<circle cx="245.20" cy="75.83" r="1.4" fill="none" stroke="#2b4dc4" stroke-width="1.1"/>
<circle cx="245.20" cy="79.62" r="1.4" fill="none" stroke="#2b4dc4" stroke-width="1.1"/>
<circle cx="245.20" cy="83.42" r="1.4" fill="none" stroke="#2b4dc4" stroke-width="1.1"/>
<circle cx="245.20" cy="87.97" r="1.4" fill="none" stroke="#2b4dc4" stroke-width="1.1"/>
<circle cx="245.20" cy="92.52" r="1.4" fill="none" stroke="#2b4dc4" stroke-width="1.1"/>
<circle cx="245.20" cy="127.10" r="1.4" fill="none" stroke="#2b4dc4" stroke-width="1.1"/>
<text x="202.0" y="16.6" font-family='"Liberation Serif", "Times New Roman", serif' font-size="7.4" font-weight="bold" fill="#111" stroke="#111" stroke-width="0.35" textLength="22" lengthAdjust="spacingAndGlyphs">sweep 2</text>
<line x1="202.90" y1="18.90" x2="222.50" y2="18.90" stroke="#222" stroke-width="0.8" />
<polygon points="225.50,18.90 222.50,20.10 222.50,17.70" fill="#222"/>
<text x="237.9" y="16.2" font-family='"Liberation Serif", "Times New Roman", serif' font-size="7.4" font-weight="bold" fill="#111" stroke="#111" stroke-width="0.35" textLength="22" lengthAdjust="spacingAndGlyphs">sweep 3</text>
<line x1="248.10" y1="23.20" x2="260.51" y2="17.28" stroke="#222" stroke-width="0.8" />
<polygon points="263.40,15.90 261.07,18.45 259.95,16.10" fill="#222"/>
<text x="209.9" y="83.2" font-family='"Liberation Serif", "Times New Roman", serif' font-size="7.4" font-weight="bold" fill="#111" stroke="#111" stroke-width="0.35" textLength="22" lengthAdjust="spacingAndGlyphs">sweep 1</text>
<line x1="232.00" y1="72.50" x2="216.25" y2="63.14" stroke="#222" stroke-width="0.8" />
<polygon points="213.50,61.50 216.91,62.02 215.59,64.25" fill="#222"/>
<text x="268.0" y="79.0" font-family='"Liberation Serif", "Times New Roman", serif' font-size="7.4" font-weight="bold" fill="#111" stroke="#111" stroke-width="0.35" textLength="22" lengthAdjust="spacingAndGlyphs">sweep 4</text>
<line x1="281.50" y1="59.00" x2="268.18" y2="67.74" stroke="#222" stroke-width="0.8" />
<polygon points="265.50,69.50 267.46,66.66 268.89,68.83" fill="#222"/>
<line x1="191.00" y1="40.80" x2="191.00" y2="34.20" stroke="#222" stroke-width="0.8" />
<polygon points="191.00,31.00 192.30,34.20 189.70,34.20" fill="#222"/>
<line x1="283.80" y1="21.50" x2="283.80" y2="36.10" stroke="#222" stroke-width="0.8" />
<polygon points="283.80,39.50 282.40,36.10 285.20,36.10" fill="#222"/>
<text x="169.2" y="140.3" font-family='"Liberation Serif", "Times New Roman", serif' font-size="7.3" font-weight="bold" fill="#111" stroke="#111" stroke-width="0.3" textLength="86" lengthAdjust="spacingAndGlyphs">ITO/PVK: 25 wt% OXD-7/Al</text>
<rect x="374.60" y="11.30" width="169.80" height="132.90" fill="none" stroke="#333" stroke-width="1.1"/>
<line x1="374.60" y1="11.30" x2="376.80" y2="11.30" stroke="#333" stroke-width="0.9" />
<line x1="544.40" y1="11.30" x2="542.20" y2="11.30" stroke="#333" stroke-width="0.9" />
<line x1="373.40" y1="21.62" x2="374.60" y2="21.62" stroke="#555" stroke-width="0.6" />
<line x1="373.40" y1="19.02" x2="374.60" y2="19.02" stroke="#555" stroke-width="0.6" />
<line x1="373.40" y1="17.18" x2="374.60" y2="17.18" stroke="#555" stroke-width="0.6" />
<line x1="373.40" y1="15.75" x2="374.60" y2="15.75" stroke="#555" stroke-width="0.6" />
<line x1="373.40" y1="14.58" x2="374.60" y2="14.58" stroke="#555" stroke-width="0.6" />
<line x1="373.40" y1="13.59" x2="374.60" y2="13.59" stroke="#555" stroke-width="0.6" />
<line x1="373.40" y1="12.73" x2="374.60" y2="12.73" stroke="#555" stroke-width="0.6" />
<line x1="373.40" y1="11.98" x2="374.60" y2="11.98" stroke="#555" stroke-width="0.6" />
<text x="370.90" y="15.30" font-family='"Liberation Serif", "Times New Roman", serif' font-size="8.6" font-weight="bold" text-anchor="end" fill="#111" stroke="#111" stroke-width="0.2">10<tspan dy="-4.6" font-size="5.6">-2</tspan></text>
<line x1="374.60" y1="26.07" x2="376.80" y2="26.07" stroke="#333" stroke-width="0.9" />
<line x1="544.40" y1="26.07" x2="542.20" y2="26.07" stroke="#333" stroke-width="0.9" />
<line x1="373.40" y1="36.39" x2="374.60" y2="36.39" stroke="#555" stroke-width="0.6" />
<line x1="373.40" y1="33.79" x2="374.60" y2="33.79" stroke="#555" stroke-width="0.6" />
<line x1="373.40" y1="31.94" x2="374.60" y2="31.94" stroke="#555" stroke-width="0.6" />
<line x1="373.40" y1="30.51" x2="374.60" y2="30.51" stroke="#555" stroke-width="0.6" />
<line x1="373.40" y1="29.34" x2="374.60" y2="29.34" stroke="#555" stroke-width="0.6" />
<line x1="373.40" y1="28.35" x2="374.60" y2="28.35" stroke="#555" stroke-width="0.6" />
<line x1="373.40" y1="27.50" x2="374.60" y2="27.50" stroke="#555" stroke-width="0.6" />
<line x1="373.40" y1="26.74" x2="374.60" y2="26.74" stroke="#555" stroke-width="0.6" />
<text x="370.90" y="30.07" font-family='"Liberation Serif", "Times New Roman", serif' font-size="8.6" font-weight="bold" text-anchor="end" fill="#111" stroke="#111" stroke-width="0.2">10<tspan dy="-4.6" font-size="5.6">-3</tspan></text>
<line x1="374.60" y1="40.83" x2="376.80" y2="40.83" stroke="#333" stroke-width="0.9" />
<line x1="544.40" y1="40.83" x2="542.20" y2="40.83" stroke="#333" stroke-width="0.9" />
<line x1="373.40" y1="51.15" x2="374.60" y2="51.15" stroke="#555" stroke-width="0.6" />
<line x1="373.40" y1="48.55" x2="374.60" y2="48.55" stroke="#555" stroke-width="0.6" />
<line x1="373.40" y1="46.71" x2="374.60" y2="46.71" stroke="#555" stroke-width="0.6" />
<line x1="373.40" y1="45.28" x2="374.60" y2="45.28" stroke="#555" stroke-width="0.6" />
<line x1="373.40" y1="44.11" x2="374.60" y2="44.11" stroke="#555" stroke-width="0.6" />
<line x1="373.40" y1="43.12" x2="374.60" y2="43.12" stroke="#555" stroke-width="0.6" />
<line x1="373.40" y1="42.26" x2="374.60" y2="42.26" stroke="#555" stroke-width="0.6" />
<line x1="373.40" y1="41.51" x2="374.60" y2="41.51" stroke="#555" stroke-width="0.6" />
<text x="370.90" y="44.83" font-family='"Liberation Serif", "Times New Roman", serif' font-size="8.6" font-weight="bold" text-anchor="end" fill="#111" stroke="#111" stroke-width="0.2">10<tspan dy="-4.6" font-size="5.6">-4</tspan></text>
<line x1="374.60" y1="55.60" x2="376.80" y2="55.60" stroke="#333" stroke-width="0.9" />
<line x1="544.40" y1="55.60" x2="542.20" y2="55.60" stroke="#333" stroke-width="0.9" />
<line x1="373.40" y1="65.92" x2="374.60" y2="65.92" stroke="#555" stroke-width="0.6" />
<line x1="373.40" y1="63.32" x2="374.60" y2="63.32" stroke="#555" stroke-width="0.6" />
<line x1="373.40" y1="61.48" x2="374.60" y2="61.48" stroke="#555" stroke-width="0.6" />
<line x1="373.40" y1="60.05" x2="374.60" y2="60.05" stroke="#555" stroke-width="0.6" />
<line x1="373.40" y1="58.88" x2="374.60" y2="58.88" stroke="#555" stroke-width="0.6" />
<line x1="373.40" y1="57.89" x2="374.60" y2="57.89" stroke="#555" stroke-width="0.6" />
<line x1="373.40" y1="57.03" x2="374.60" y2="57.03" stroke="#555" stroke-width="0.6" />
<line x1="373.40" y1="56.28" x2="374.60" y2="56.28" stroke="#555" stroke-width="0.6" />
<text x="370.90" y="59.60" font-family='"Liberation Serif", "Times New Roman", serif' font-size="8.6" font-weight="bold" text-anchor="end" fill="#111" stroke="#111" stroke-width="0.2">10<tspan dy="-4.6" font-size="5.6">-5</tspan></text>
<line x1="374.60" y1="70.37" x2="376.80" y2="70.37" stroke="#333" stroke-width="0.9" />
<line x1="544.40" y1="70.37" x2="542.20" y2="70.37" stroke="#333" stroke-width="0.9" />
<line x1="373.40" y1="80.69" x2="374.60" y2="80.69" stroke="#555" stroke-width="0.6" />
<line x1="373.40" y1="78.09" x2="374.60" y2="78.09" stroke="#555" stroke-width="0.6" />
<line x1="373.40" y1="76.24" x2="374.60" y2="76.24" stroke="#555" stroke-width="0.6" />
<line x1="373.40" y1="74.81" x2="374.60" y2="74.81" stroke="#555" stroke-width="0.6" />
<line x1="373.40" y1="73.64" x2="374.60" y2="73.64" stroke="#555" stroke-width="0.6" />
<line x1="373.40" y1="72.65" x2="374.60" y2="72.65" stroke="#555" stroke-width="0.6" />
<line x1="373.40" y1="71.80" x2="374.60" y2="71.80" stroke="#555" stroke-width="0.6" />
<line x1="373.40" y1="71.04" x2="374.60" y2="71.04" stroke="#555" stroke-width="0.6" />
<text x="370.90" y="74.37" font-family='"Liberation Serif", "Times New Roman", serif' font-size="8.6" font-weight="bold" text-anchor="end" fill="#111" stroke="#111" stroke-width="0.2">10<tspan dy="-4.6" font-size="5.6">-6</tspan></text>
<line x1="374.60" y1="85.13" x2="376.80" y2="85.13" stroke="#333" stroke-width="0.9" />
<line x1="544.40" y1="85.13" x2="542.20" y2="85.13" stroke="#333" stroke-width="0.9" />
<line x1="373.40" y1="95.45" x2="374.60" y2="95.45" stroke="#555" stroke-width="0.6" />
<line x1="373.40" y1="92.85" x2="374.60" y2="92.85" stroke="#555" stroke-width="0.6" />
<line x1="373.40" y1="91.01" x2="374.60" y2="91.01" stroke="#555" stroke-width="0.6" />
<line x1="373.40" y1="89.58" x2="374.60" y2="89.58" stroke="#555" stroke-width="0.6" />
<line x1="373.40" y1="88.41" x2="374.60" y2="88.41" stroke="#555" stroke-width="0.6" />
<line x1="373.40" y1="87.42" x2="374.60" y2="87.42" stroke="#555" stroke-width="0.6" />
<line x1="373.40" y1="86.56" x2="374.60" y2="86.56" stroke="#555" stroke-width="0.6" />
<line x1="373.40" y1="85.81" x2="374.60" y2="85.81" stroke="#555" stroke-width="0.6" />
<text x="370.90" y="89.13" font-family='"Liberation Serif", "Times New Roman", serif' font-size="8.6" font-weight="bold" text-anchor="end" fill="#111" stroke="#111" stroke-width="0.2">10<tspan dy="-4.6" font-size="5.6">-7</tspan></text>
<line x1="374.60" y1="99.90" x2="376.80" y2="99.90" stroke="#333" stroke-width="0.9" />
<line x1="544.40" y1="99.90" x2="542.20" y2="99.90" stroke="#333" stroke-width="0.9" />
<line x1="373.40" y1="110.22" x2="374.60" y2="110.22" stroke="#555" stroke-width="0.6" />
<line x1="373.40" y1="107.62" x2="374.60" y2="107.62" stroke="#555" stroke-width="0.6" />
<line x1="373.40" y1="105.78" x2="374.60" y2="105.78" stroke="#555" stroke-width="0.6" />
<line x1="373.40" y1="104.35" x2="374.60" y2="104.35" stroke="#555" stroke-width="0.6" />
<line x1="373.40" y1="103.18" x2="374.60" y2="103.18" stroke="#555" stroke-width="0.6" />
<line x1="373.40" y1="102.19" x2="374.60" y2="102.19" stroke="#555" stroke-width="0.6" />
<line x1="373.40" y1="101.33" x2="374.60" y2="101.33" stroke="#555" stroke-width="0.6" />
<line x1="373.40" y1="100.58" x2="374.60" y2="100.58" stroke="#555" stroke-width="0.6" />
<text x="370.90" y="103.90" font-family='"Liberation Serif", "Times New Roman", serif' font-size="8.6" font-weight="bold" text-anchor="end" fill="#111" stroke="#111" stroke-width="0.2">10<tspan dy="-4.6" font-size="5.6">-8</tspan></text>
<line x1="374.60" y1="114.67" x2="376.80" y2="114.67" stroke="#333" stroke-width="0.9" />
<line x1="544.40" y1="114.67" x2="542.20" y2="114.67" stroke="#333" stroke-width="0.9" />
<line x1="373.40" y1="124.99" x2="374.60" y2="124.99" stroke="#555" stroke-width="0.6" />
<line x1="373.40" y1="122.39" x2="374.60" y2="122.39" stroke="#555" stroke-width="0.6" />
<line x1="373.40" y1="120.54" x2="374.60" y2="120.54" stroke="#555" stroke-width="0.6" />
<line x1="373.40" y1="119.11" x2="374.60" y2="119.11" stroke="#555" stroke-width="0.6" />
<line x1="373.40" y1="117.94" x2="374.60" y2="117.94" stroke="#555" stroke-width="0.6" />
<line x1="373.40" y1="116.95" x2="374.60" y2="116.95" stroke="#555" stroke-width="0.6" />
<line x1="373.40" y1="116.10" x2="374.60" y2="116.10" stroke="#555" stroke-width="0.6" />
<line x1="373.40" y1="115.34" x2="374.60" y2="115.34" stroke="#555" stroke-width="0.6" />
<text x="370.90" y="118.67" font-family='"Liberation Serif", "Times New Roman", serif' font-size="8.6" font-weight="bold" text-anchor="end" fill="#111" stroke="#111" stroke-width="0.2">10<tspan dy="-4.6" font-size="5.6">-9</tspan></text>
<line x1="374.60" y1="129.43" x2="376.80" y2="129.43" stroke="#333" stroke-width="0.9" />
<line x1="544.40" y1="129.43" x2="542.20" y2="129.43" stroke="#333" stroke-width="0.9" />
<line x1="373.40" y1="139.75" x2="374.60" y2="139.75" stroke="#555" stroke-width="0.6" />
<line x1="373.40" y1="137.15" x2="374.60" y2="137.15" stroke="#555" stroke-width="0.6" />
<line x1="373.40" y1="135.31" x2="374.60" y2="135.31" stroke="#555" stroke-width="0.6" />
<line x1="373.40" y1="133.88" x2="374.60" y2="133.88" stroke="#555" stroke-width="0.6" />
<line x1="373.40" y1="132.71" x2="374.60" y2="132.71" stroke="#555" stroke-width="0.6" />
<line x1="373.40" y1="131.72" x2="374.60" y2="131.72" stroke="#555" stroke-width="0.6" />
<line x1="373.40" y1="130.86" x2="374.60" y2="130.86" stroke="#555" stroke-width="0.6" />
<line x1="373.40" y1="130.11" x2="374.60" y2="130.11" stroke="#555" stroke-width="0.6" />
<text x="370.90" y="133.43" font-family='"Liberation Serif", "Times New Roman", serif' font-size="8.6" font-weight="bold" text-anchor="end" fill="#111" stroke="#111" stroke-width="0.2">10<tspan dy="-4.6" font-size="5.6">-10</tspan></text>
<line x1="374.60" y1="144.20" x2="376.80" y2="144.20" stroke="#333" stroke-width="0.9" />
<line x1="544.40" y1="144.20" x2="542.20" y2="144.20" stroke="#333" stroke-width="0.9" />
<text x="370.90" y="148.20" font-family='"Liberation Serif", "Times New Roman", serif' font-size="8.6" font-weight="bold" text-anchor="end" fill="#111" stroke="#111" stroke-width="0.2">10<tspan dy="-4.6" font-size="5.6">-11</tspan></text>
<line x1="374.60" y1="144.20" x2="374.60" y2="142.00" stroke="#333" stroke-width="0.9" />
<line x1="374.60" y1="11.30" x2="374.60" y2="13.50" stroke="#333" stroke-width="0.9" />
<text x="374.60" y="155.80" font-family='"Liberation Serif", "Times New Roman", serif' font-size="8.8" font-weight="bold" text-anchor="middle" fill="#111" stroke="#111" stroke-width="0.2">-6</text>
<line x1="402.90" y1="144.20" x2="402.90" y2="142.00" stroke="#333" stroke-width="0.9" />
<line x1="402.90" y1="11.30" x2="402.90" y2="13.50" stroke="#333" stroke-width="0.9" />
<text x="402.90" y="155.80" font-family='"Liberation Serif", "Times New Roman", serif' font-size="8.8" font-weight="bold" text-anchor="middle" fill="#111" stroke="#111" stroke-width="0.2">-4</text>
<line x1="431.20" y1="144.20" x2="431.20" y2="142.00" stroke="#333" stroke-width="0.9" />
<line x1="431.20" y1="11.30" x2="431.20" y2="13.50" stroke="#333" stroke-width="0.9" />
<text x="431.20" y="155.80" font-family='"Liberation Serif", "Times New Roman", serif' font-size="8.8" font-weight="bold" text-anchor="middle" fill="#111" stroke="#111" stroke-width="0.2">-2</text>
<line x1="459.50" y1="144.20" x2="459.50" y2="142.00" stroke="#333" stroke-width="0.9" />
<line x1="459.50" y1="11.30" x2="459.50" y2="13.50" stroke="#333" stroke-width="0.9" />
<text x="459.50" y="155.80" font-family='"Liberation Serif", "Times New Roman", serif' font-size="8.8" font-weight="bold" text-anchor="middle" fill="#111" stroke="#111" stroke-width="0.2">0</text>
<line x1="487.80" y1="144.20" x2="487.80" y2="142.00" stroke="#333" stroke-width="0.9" />
<line x1="487.80" y1="11.30" x2="487.80" y2="13.50" stroke="#333" stroke-width="0.9" />
<text x="487.80" y="155.80" font-family='"Liberation Serif", "Times New Roman", serif' font-size="8.8" font-weight="bold" text-anchor="middle" fill="#111" stroke="#111" stroke-width="0.2">2</text>
<line x1="516.10" y1="144.20" x2="516.10" y2="142.00" stroke="#333" stroke-width="0.9" />
<line x1="516.10" y1="11.30" x2="516.10" y2="13.50" stroke="#333" stroke-width="0.9" />
<text x="516.10" y="155.80" font-family='"Liberation Serif", "Times New Roman", serif' font-size="8.8" font-weight="bold" text-anchor="middle" fill="#111" stroke="#111" stroke-width="0.2">4</text>
<line x1="544.40" y1="144.20" x2="544.40" y2="142.00" stroke="#333" stroke-width="0.9" />
<line x1="544.40" y1="11.30" x2="544.40" y2="13.50" stroke="#333" stroke-width="0.9" />
<text x="544.40" y="155.80" font-family='"Liberation Serif", "Times New Roman", serif' font-size="8.8" font-weight="bold" text-anchor="middle" fill="#111" stroke="#111" stroke-width="0.2">6</text>
<line x1="388.75" y1="144.20" x2="388.75" y2="142.90" stroke="#333" stroke-width="0.8" />
<line x1="417.05" y1="144.20" x2="417.05" y2="142.90" stroke="#333" stroke-width="0.8" />
<line x1="445.35" y1="144.20" x2="445.35" y2="142.90" stroke="#333" stroke-width="0.8" />
<line x1="473.65" y1="144.20" x2="473.65" y2="142.90" stroke="#333" stroke-width="0.8" />
<line x1="501.95" y1="144.20" x2="501.95" y2="142.90" stroke="#333" stroke-width="0.8" />
<line x1="530.25" y1="144.20" x2="530.25" y2="142.90" stroke="#333" stroke-width="0.8" />
<text x="459.50" y="166.50" font-family='"Liberation Serif", "Times New Roman", serif' font-size="9.0" font-weight="bold" text-anchor="middle" fill="#111" stroke="#111" stroke-width="0.3" textLength="43.7" lengthAdjust="spacingAndGlyphs">Voltage (V)</text>
<text transform="translate(352.50,75.30) rotate(-90)" x="0" y="0" font-family='"Liberation Serif", "Times New Roman", serif' font-size="9.6" font-weight="bold" text-anchor="middle" fill="#111" stroke="#111" stroke-width="0.3" textLength="46.4" lengthAdjust="spacingAndGlyphs">Current (A)</text>
<polyline points="388.75,26.07 389.45,26.07 390.16,26.07 390.86,26.07 391.57,26.07 392.27,26.07 392.98,26.07 393.68,26.07 394.39,26.07 395.09,26.07 395.80,26.07 396.50,26.07 397.21,26.07 397.91,26.07 398.62,26.07 399.32,26.07 400.02,26.07 400.73,26.07 401.43,26.07 402.14,26.07 402.84,26.07 403.55,26.07 404.25,26.07 404.96,26.07 405.66,26.07 406.37,26.07 407.07,26.07 407.78,26.07 408.48,26.07 409.19,26.07 409.89,26.07 410.59,26.07 411.30,26.07 412.00,26.07 412.71,26.07 413.41,26.07 414.12,26.07 414.82,26.07 415.53,26.07 416.23,26.07 416.94,26.07 417.64,26.07 418.35,26.07 419.05,26.07 419.76,26.07 420.46,26.07 421.16,26.07 421.87,26.07 422.57,26.07 423.28,26.07 423.98,26.07 424.69,26.07 425.39,26.07 426.10,26.07 426.80,26.07 427.51,26.07 428.21,26.07 428.92,26.07 429.62,26.07 430.33,26.07 431.03,26.07 431.73,26.07 432.44,26.07 433.14,26.07 433.85,26.07 434.55,26.07 435.26,26.07 435.96,26.07 436.67,26.07 437.37,26.07 438.08,26.07 438.78,26.07 439.49,26.07 440.19,26.07 440.90,26.07 441.60,26.07 442.30,26.07 443.01,26.07 443.71,26.07 444.42,26.07 445.12,26.07 445.83,26.07 446.53,26.08 447.24,26.15 447.94,26.29 448.65,26.52 449.35,26.84 450.06,27.25 450.76,27.75 451.47,28.36 452.17,29.07 452.87,29.88 453.58,30.80 454.28,31.83 454.99,32.97 455.69,34.23 456.40,35.60 457.10,37.09 457.81,38.70 458.51,40.42 459.22,42.27" stroke="#25a043" stroke-width="3.0" fill="none" stroke-linecap="round" stroke-linejoin="round"/>
<polyline points="459.78,38.27 460.05,37.06 460.32,36.21 460.58,35.53 460.85,34.95 461.11,34.44 461.38,33.99 461.65,33.58 461.91,33.20 462.18,32.85 462.44,32.52 462.71,32.21 462.98,31.92 463.24,31.64 463.51,31.38 463.77,31.12 464.04,30.88 464.31,30.65 464.57,30.42 464.84,30.20 465.10,29.99 465.37,29.79 465.64,29.59 465.90,29.40 466.17,29.21 466.43,29.03 466.70,28.86 466.97,28.68 467.23,28.51 467.50,28.35 467.76,28.19 468.03,28.03 468.30,27.88 468.56,27.73 468.83,27.58 469.09,27.43 469.36,27.29 469.63,27.15 469.89,27.01 470.16,26.87 470.42,26.74 470.69,26.61 470.96,26.48 471.22,26.35 471.49,26.23 471.75,26.11 472.02,25.98 472.29,25.86 472.55,25.75 472.82,25.63 473.08,25.51 473.35,25.40 473.62,25.29 473.88,25.18 474.15,25.07 474.41,24.96 474.68,24.85 474.95,24.75 475.21,24.64 475.48,24.54 475.74,24.44 476.01,24.34 476.28,24.24 476.54,24.14 476.81,24.04 477.07,23.95 477.34,23.85 477.61,23.75 477.87,23.66 478.14,23.57 478.40,23.48 478.67,23.39 478.94,23.29 479.20,23.21 479.47,23.12 479.73,23.03 480.00,22.94 480.27,22.86 480.53,22.77 480.80,22.68 481.06,22.60 481.33,22.52 481.60,22.43 481.86,22.35 482.13,22.27 482.39,22.19 482.66,22.11 482.93,22.03 483.19,21.95 483.46,21.87 483.72,21.79 483.99,21.72 484.26,21.64 484.52,21.56 484.79,21.49 485.05,21.41 485.32,21.34 485.59,21.27 485.85,21.19 486.12,21.12 486.38,21.05" stroke="#25a043" stroke-width="3.0" fill="none" stroke-linecap="round" stroke-linejoin="round"/>
<polyline points="400.07,50.87 411.39,52.06 420.59,52.65 422.71,53.83" stroke="#25a043" stroke-width="3.0" fill="none" stroke-linecap="round" stroke-linejoin="round"/>
<polyline points="422.71,68.00 423.01,68.18 423.32,68.36 423.62,68.54 423.93,68.71 424.23,68.89 424.54,69.06 424.84,69.23 425.14,69.40 425.45,69.57 425.75,69.74 426.06,69.91 426.36,70.07 426.66,70.24 426.97,70.41 427.27,70.58 427.58,70.74 427.88,70.91 428.19,71.08 428.49,71.25 428.79,71.41 429.10,71.58 429.40,71.75 429.71,71.92 430.01,72.10 430.32,72.27 430.62,72.44 430.92,72.62 431.23,72.80 431.53,72.98 431.84,73.16 432.14,73.34 432.45,73.52 432.75,73.71 433.05,73.90 433.36,74.09 433.66,74.28 433.97,74.48 434.27,74.68 434.57,74.88 434.88,75.09 435.18,75.29 435.49,75.50 435.79,75.72 436.10,75.94 436.40,76.16 436.70,76.38 437.01,76.61 437.31,76.83 437.62,77.06 437.92,77.29 438.23,77.53 438.53,77.76 438.83,78.00 439.14,78.24 439.44,78.48 439.75,78.73 440.05,78.98 440.36,79.23 440.66,79.48 440.96,79.74 441.27,80.00 441.57,80.26 441.88,80.53 442.18,80.80 442.48,81.07 442.79,81.35 443.09,81.63 443.40,81.92 443.70,82.21 444.01,82.50 444.31,82.80 444.61,83.10 444.92,83.40 445.22,83.71 445.53,84.03 445.83,84.34 446.14,84.67 446.44,85.00 446.74,85.33 447.05,85.67 447.35,86.01 447.66,86.36 447.96,86.71 448.26,87.07 448.57,87.43 448.87,87.80 449.18,88.17 449.48,88.54 449.79,88.92 450.09,89.30 450.39,89.69 450.70,90.08 451.00,90.48 451.31,90.90 451.61,91.32 451.92,91.76 452.22,92.21 452.52,92.68 452.83,93.17 453.13,93.67 453.44,94.19 453.74,94.74 454.05,95.30 454.35,95.89 454.65,96.50 454.96,97.14 455.26,97.81 455.57,98.51 455.87,99.23 456.17,100.01 456.48,100.88 456.78,101.86 457.09,102.94 457.39,104.14 457.70,105.45 458.00,106.88 458.30,108.42 458.61,110.26 458.91,112.61 459.22,115.17" stroke="#25a043" stroke-width="3.0" fill="none" stroke-linecap="round" stroke-linejoin="round"/>
<polyline points="459.78,115.13 460.37,110.03 460.96,106.37 461.54,104.09 462.13,102.15 462.72,100.49 463.31,99.07 463.89,97.85 464.48,96.79 465.07,95.84 465.66,94.96 466.24,94.16 466.83,93.42 467.42,92.73 468.00,92.09 468.59,91.49 469.18,90.93 469.77,90.40 470.35,89.89 470.94,89.39 471.53,88.90 472.11,88.41 472.70,87.92 473.29,87.42 473.88,86.89 474.46,86.34 475.05,85.76 475.64,85.13 476.23,84.47 476.81,83.76 477.40,83.02 477.99,82.25 478.57,81.46 479.16,80.66 479.75,79.84 480.34,79.02 480.92,78.21 481.51,77.40 482.10,76.61 482.68,75.84 483.27,75.09 483.86,74.38 484.45,73.71 485.03,73.08 485.62,72.51 486.21,71.99 486.80,71.52 487.38,71.07 487.97,70.63 488.56,70.21 489.14,69.80 489.73,69.40 490.32,69.02 490.91,68.64 491.49,68.28 492.08,67.93 492.67,67.59 493.25,67.25 493.84,66.93 494.43,66.61 495.02,66.30 495.60,66.00 496.19,65.70 496.78,65.41 497.37,65.12 497.95,64.84 498.54,64.56 499.13,64.29 499.71,64.01 500.30,63.74 500.89,63.47 501.48,63.20 502.06,62.93 502.65,62.67 503.24,62.40 503.82,62.15 504.41,61.90 505.00,61.65 505.59,61.41 506.17,61.17 506.76,60.93 507.35,60.70 507.94,60.47 508.52,60.24 509.11,60.02 509.70,59.80 510.28,59.58 510.87,59.37 511.46,59.15 512.05,58.94 512.63,58.73 513.22,58.52 513.81,58.32 514.39,58.11 514.98,57.91 515.57,57.70 516.16,57.50 516.74,57.30 517.33,57.10 517.92,56.91 518.51,56.71 519.09,56.52 519.68,56.33 520.27,56.15 520.85,55.96 521.44,55.78 522.03,55.60 522.62,55.42 523.20,55.24 523.79,55.06 524.38,54.88 524.96,54.70 525.55,54.53 526.14,54.35 526.73,54.17 527.31,53.99 527.90,53.81 528.49,53.63 529.08,53.45 529.66,53.27 530.25,53.09" stroke="#25a043" stroke-width="3.0" fill="none" stroke-linecap="round" stroke-linejoin="round"/>
<polyline points="486.38,71.10 487.48,70.26 488.58,69.46 489.67,68.70 490.77,67.99 491.87,67.32 492.96,66.68 494.06,66.07 495.16,65.49 496.25,64.93 497.35,64.39 498.45,63.87 499.54,63.35 500.64,62.85 501.74,62.34 502.83,61.84 503.93,61.36 505.03,60.90 506.12,60.45 507.22,60.01 508.32,59.58 509.41,59.17 510.51,58.76 511.61,58.36 512.70,57.97 513.80,57.58 514.90,57.20 515.99,56.82 517.09,56.44 518.19,56.08 519.28,55.72 520.38,55.37 521.48,55.03 522.57,54.69 523.67,54.36 524.77,54.03 525.86,53.69 526.96,53.36 528.06,53.03 529.15,52.69 530.25,52.35" stroke="#25a043" stroke-width="3.4" fill="none" stroke-linecap="round"/>
<line x1="400.07" y1="26.07" x2="400.07" y2="50.87" stroke="#5cc372" stroke-width="1.0" />
<line x1="422.71" y1="53.38" x2="422.71" y2="68.00" stroke="#5cc372" stroke-width="1.0" />
<line x1="486.38" y1="21.05" x2="486.38" y2="71.10" stroke="#5cc372" stroke-width="1.0" />
<line x1="459.50" y1="43.05" x2="459.50" y2="88.53" stroke="#5cc372" stroke-width="1.2" />
<line x1="459.50" y1="108.76" x2="459.50" y2="130.91" stroke="#5cc372" stroke-width="1.2" />
<circle cx="459.50" cy="40.09" r="1.4" fill="none" stroke="#25a043" stroke-width="1.1"/>
<circle cx="459.50" cy="43.05" r="1.4" fill="none" stroke="#25a043" stroke-width="1.1"/>
<circle cx="459.50" cy="46.00" r="1.4" fill="none" stroke="#25a043" stroke-width="1.1"/>
<circle cx="459.50" cy="88.53" r="1.4" fill="none" stroke="#25a043" stroke-width="1.1"/>
<circle cx="459.50" cy="110.24" r="1.4" fill="none" stroke="#25a043" stroke-width="1.1"/>
<circle cx="459.50" cy="113.93" r="1.4" fill="none" stroke="#25a043" stroke-width="1.1"/>
<circle cx="459.50" cy="117.62" r="1.4" fill="none" stroke="#25a043" stroke-width="1.1"/>
<circle cx="459.50" cy="121.31" r="1.4" fill="none" stroke="#25a043" stroke-width="1.1"/>
<circle cx="459.50" cy="125.00" r="1.4" fill="none" stroke="#25a043" stroke-width="1.1"/>
<circle cx="459.50" cy="130.91" r="1.4" fill="none" stroke="#25a043" stroke-width="1.1"/>
<text x="414.7" y="17.8" font-family='"Liberation Serif", "Times New Roman", serif' font-size="7.4" font-weight="bold" fill="#111" stroke="#111" stroke-width="0.35" textLength="22" lengthAdjust="spacingAndGlyphs">sweep 2</text>
<line x1="414.70" y1="20.30" x2="434.50" y2="20.30" stroke="#222" stroke-width="0.8" />
<polygon points="437.50,20.30 434.50,21.50 434.50,19.10" fill="#222"/>
<text x="450.0" y="17.4" font-family='"Liberation Serif", "Times New Roman", serif' font-size="7.4" font-weight="bold" fill="#111" stroke="#111" stroke-width="0.35" textLength="22" lengthAdjust="spacingAndGlyphs">sweep 3</text>
<line x1="460.20" y1="24.60" x2="474.25" y2="18.65" stroke="#222" stroke-width="0.8" />
<polygon points="477.20,17.40 474.76,19.85 473.75,17.45" fill="#222"/>
<text x="408.6" y="96.0" font-family='"Liberation Serif", "Times New Roman", serif' font-size="7.4" font-weight="bold" fill="#111" stroke="#111" stroke-width="0.35" textLength="22" lengthAdjust="spacingAndGlyphs">sweep 1</text>
<line x1="432.40" y1="86.00" x2="416.27" y2="76.70" stroke="#222" stroke-width="0.8" />
<polygon points="413.50,75.10 416.92,75.57 415.62,77.82" fill="#222"/>
<text x="501.0" y="86.5" font-family='"Liberation Serif", "Times New Roman", serif' font-size="7.4" font-weight="bold" fill="#111" stroke="#111" stroke-width="0.35" textLength="22" lengthAdjust="spacingAndGlyphs">sweep 4</text>
<line x1="510.70" y1="73.00" x2="498.17" y2="81.24" stroke="#222" stroke-width="0.8" />
<polygon points="495.50,83.00 497.46,80.16 498.89,82.33" fill="#222"/>
<line x1="392.20" y1="42.50" x2="392.20" y2="35.70" stroke="#222" stroke-width="0.8" />
<polygon points="392.20,32.50 393.50,35.70 390.90,35.70" fill="#222"/>
<line x1="417.50" y1="66.00" x2="417.50" y2="61.00" stroke="#222" stroke-width="0.8" />
<polygon points="417.50,58.00 418.80,61.00 416.20,61.00" fill="#222"/>
<line x1="490.50" y1="26.00" x2="490.50" y2="40.80" stroke="#222" stroke-width="0.8" />
<polygon points="490.50,44.00 489.20,40.80 491.80,40.80" fill="#222"/>
<text x="376.0" y="138.6" font-family='"Liberation Serif", "Times New Roman", serif' font-size="7.3" font-weight="bold" fill="#111" stroke="#111" stroke-width="0.3" textLength="131.5" lengthAdjust="spacingAndGlyphs">ITO/PVK: 24 wt% OXD-7: 6 wt% PBD/Al</text>
<line x1="60.90" y1="395.00" x2="60.90" y2="520.60" stroke="#111" stroke-width="1.4" />
<line x1="60.30" y1="520.00" x2="218.40" y2="520.00" stroke="#111" stroke-width="1.4" />
<line x1="58.30" y1="520.00" x2="60.90" y2="520.00" stroke="#111" stroke-width="1.0" />
<line x1="59.40" y1="516.77" x2="60.90" y2="516.77" stroke="#222" stroke-width="0.6" />
<line x1="59.40" y1="514.88" x2="60.90" y2="514.88" stroke="#222" stroke-width="0.6" />
<line x1="59.40" y1="513.54" x2="60.90" y2="513.54" stroke="#222" stroke-width="0.6" />
<line x1="59.40" y1="512.50" x2="60.90" y2="512.50" stroke="#222" stroke-width="0.6" />
<line x1="59.40" y1="511.65" x2="60.90" y2="511.65" stroke="#222" stroke-width="0.6" />
<line x1="59.40" y1="510.93" x2="60.90" y2="510.93" stroke="#222" stroke-width="0.6" />
<line x1="59.40" y1="510.31" x2="60.90" y2="510.31" stroke="#222" stroke-width="0.6" />
<line x1="59.40" y1="509.76" x2="60.90" y2="509.76" stroke="#222" stroke-width="0.6" />
<line x1="58.30" y1="509.27" x2="60.90" y2="509.27" stroke="#111" stroke-width="1.0" />
<line x1="59.40" y1="506.04" x2="60.90" y2="506.04" stroke="#222" stroke-width="0.6" />
<line x1="59.40" y1="504.15" x2="60.90" y2="504.15" stroke="#222" stroke-width="0.6" />
<line x1="59.40" y1="502.81" x2="60.90" y2="502.81" stroke="#222" stroke-width="0.6" />
<line x1="59.40" y1="501.77" x2="60.90" y2="501.77" stroke="#222" stroke-width="0.6" />
<line x1="59.40" y1="500.92" x2="60.90" y2="500.92" stroke="#222" stroke-width="0.6" />
<line x1="59.40" y1="500.20" x2="60.90" y2="500.20" stroke="#222" stroke-width="0.6" />
<line x1="59.40" y1="499.58" x2="60.90" y2="499.58" stroke="#222" stroke-width="0.6" />
<line x1="59.40" y1="499.03" x2="60.90" y2="499.03" stroke="#222" stroke-width="0.6" />
<line x1="58.30" y1="498.54" x2="60.90" y2="498.54" stroke="#111" stroke-width="1.0" />
<line x1="59.40" y1="495.31" x2="60.90" y2="495.31" stroke="#222" stroke-width="0.6" />
<line x1="59.40" y1="493.42" x2="60.90" y2="493.42" stroke="#222" stroke-width="0.6" />
<line x1="59.40" y1="492.08" x2="60.90" y2="492.08" stroke="#222" stroke-width="0.6" />
<line x1="59.40" y1="491.04" x2="60.90" y2="491.04" stroke="#222" stroke-width="0.6" />
<line x1="59.40" y1="490.19" x2="60.90" y2="490.19" stroke="#222" stroke-width="0.6" />
<line x1="59.40" y1="489.47" x2="60.90" y2="489.47" stroke="#222" stroke-width="0.6" />
<line x1="59.40" y1="488.85" x2="60.90" y2="488.85" stroke="#222" stroke-width="0.6" />
<line x1="59.40" y1="488.30" x2="60.90" y2="488.30" stroke="#222" stroke-width="0.6" />
<line x1="58.30" y1="487.81" x2="60.90" y2="487.81" stroke="#111" stroke-width="1.0" />
<line x1="59.40" y1="484.58" x2="60.90" y2="484.58" stroke="#222" stroke-width="0.6" />
<line x1="59.40" y1="482.69" x2="60.90" y2="482.69" stroke="#222" stroke-width="0.6" />
<line x1="59.40" y1="481.35" x2="60.90" y2="481.35" stroke="#222" stroke-width="0.6" />
<line x1="59.40" y1="480.31" x2="60.90" y2="480.31" stroke="#222" stroke-width="0.6" />
<line x1="59.40" y1="479.46" x2="60.90" y2="479.46" stroke="#222" stroke-width="0.6" />
<line x1="59.40" y1="478.74" x2="60.90" y2="478.74" stroke="#222" stroke-width="0.6" />
<line x1="59.40" y1="478.12" x2="60.90" y2="478.12" stroke="#222" stroke-width="0.6" />
<line x1="59.40" y1="477.57" x2="60.90" y2="477.57" stroke="#222" stroke-width="0.6" />
<line x1="58.30" y1="477.08" x2="60.90" y2="477.08" stroke="#111" stroke-width="1.0" />
<line x1="59.40" y1="473.85" x2="60.90" y2="473.85" stroke="#222" stroke-width="0.6" />
<line x1="59.40" y1="471.96" x2="60.90" y2="471.96" stroke="#222" stroke-width="0.6" />
<line x1="59.40" y1="470.62" x2="60.90" y2="470.62" stroke="#222" stroke-width="0.6" />
<line x1="59.40" y1="469.58" x2="60.90" y2="469.58" stroke="#222" stroke-width="0.6" />
<line x1="59.40" y1="468.73" x2="60.90" y2="468.73" stroke="#222" stroke-width="0.6" />
<line x1="59.40" y1="468.01" x2="60.90" y2="468.01" stroke="#222" stroke-width="0.6" />
<line x1="59.40" y1="467.39" x2="60.90" y2="467.39" stroke="#222" stroke-width="0.6" />
<line x1="59.40" y1="466.84" x2="60.90" y2="466.84" stroke="#222" stroke-width="0.6" />
<line x1="58.30" y1="466.35" x2="60.90" y2="466.35" stroke="#111" stroke-width="1.0" />
<line x1="59.40" y1="463.12" x2="60.90" y2="463.12" stroke="#222" stroke-width="0.6" />
<line x1="59.40" y1="461.23" x2="60.90" y2="461.23" stroke="#222" stroke-width="0.6" />
<line x1="59.40" y1="459.89" x2="60.90" y2="459.89" stroke="#222" stroke-width="0.6" />
<line x1="59.40" y1="458.85" x2="60.90" y2="458.85" stroke="#222" stroke-width="0.6" />
<line x1="59.40" y1="458.00" x2="60.90" y2="458.00" stroke="#222" stroke-width="0.6" />
<line x1="59.40" y1="457.28" x2="60.90" y2="457.28" stroke="#222" stroke-width="0.6" />
<line x1="59.40" y1="456.66" x2="60.90" y2="456.66" stroke="#222" stroke-width="0.6" />
<line x1="59.40" y1="456.11" x2="60.90" y2="456.11" stroke="#222" stroke-width="0.6" />
<line x1="58.30" y1="455.62" x2="60.90" y2="455.62" stroke="#111" stroke-width="1.0" />
<line x1="59.40" y1="452.39" x2="60.90" y2="452.39" stroke="#222" stroke-width="0.6" />
<line x1="59.40" y1="450.50" x2="60.90" y2="450.50" stroke="#222" stroke-width="0.6" />
<line x1="59.40" y1="449.16" x2="60.90" y2="449.16" stroke="#222" stroke-width="0.6" />
<line x1="59.40" y1="448.12" x2="60.90" y2="448.12" stroke="#222" stroke-width="0.6" />
<line x1="59.40" y1="447.27" x2="60.90" y2="447.27" stroke="#222" stroke-width="0.6" />
<line x1="59.40" y1="446.55" x2="60.90" y2="446.55" stroke="#222" stroke-width="0.6" />
<line x1="59.40" y1="445.93" x2="60.90" y2="445.93" stroke="#222" stroke-width="0.6" />
<line x1="59.40" y1="445.38" x2="60.90" y2="445.38" stroke="#222" stroke-width="0.6" />
<line x1="58.30" y1="444.89" x2="60.90" y2="444.89" stroke="#111" stroke-width="1.0" />
<line x1="59.40" y1="441.66" x2="60.90" y2="441.66" stroke="#222" stroke-width="0.6" />
<line x1="59.40" y1="439.77" x2="60.90" y2="439.77" stroke="#222" stroke-width="0.6" />
<line x1="59.40" y1="438.43" x2="60.90" y2="438.43" stroke="#222" stroke-width="0.6" />
<line x1="59.40" y1="437.39" x2="60.90" y2="437.39" stroke="#222" stroke-width="0.6" />
<line x1="59.40" y1="436.54" x2="60.90" y2="436.54" stroke="#222" stroke-width="0.6" />
<line x1="59.40" y1="435.82" x2="60.90" y2="435.82" stroke="#222" stroke-width="0.6" />
<line x1="59.40" y1="435.20" x2="60.90" y2="435.20" stroke="#222" stroke-width="0.6" />
<line x1="59.40" y1="434.65" x2="60.90" y2="434.65" stroke="#222" stroke-width="0.6" />
<line x1="58.30" y1="434.16" x2="60.90" y2="434.16" stroke="#111" stroke-width="1.0" />
<line x1="59.40" y1="430.93" x2="60.90" y2="430.93" stroke="#222" stroke-width="0.6" />
<line x1="59.40" y1="429.04" x2="60.90" y2="429.04" stroke="#222" stroke-width="0.6" />
<line x1="59.40" y1="427.70" x2="60.90" y2="427.70" stroke="#222" stroke-width="0.6" />
<line x1="59.40" y1="426.66" x2="60.90" y2="426.66" stroke="#222" stroke-width="0.6" />
<line x1="59.40" y1="425.81" x2="60.90" y2="425.81" stroke="#222" stroke-width="0.6" />
<line x1="59.40" y1="425.09" x2="60.90" y2="425.09" stroke="#222" stroke-width="0.6" />
<line x1="59.40" y1="424.47" x2="60.90" y2="424.47" stroke="#222" stroke-width="0.6" />
<line x1="59.40" y1="423.92" x2="60.90" y2="423.92" stroke="#222" stroke-width="0.6" />
<line x1="58.30" y1="423.43" x2="60.90" y2="423.43" stroke="#111" stroke-width="1.0" />
<line x1="59.40" y1="420.20" x2="60.90" y2="420.20" stroke="#222" stroke-width="0.6" />
<line x1="59.40" y1="418.31" x2="60.90" y2="418.31" stroke="#222" stroke-width="0.6" />
<line x1="59.40" y1="416.97" x2="60.90" y2="416.97" stroke="#222" stroke-width="0.6" />
<line x1="59.40" y1="415.93" x2="60.90" y2="415.93" stroke="#222" stroke-width="0.6" />
<line x1="59.40" y1="415.08" x2="60.90" y2="415.08" stroke="#222" stroke-width="0.6" />
<line x1="59.40" y1="414.36" x2="60.90" y2="414.36" stroke="#222" stroke-width="0.6" />
<line x1="59.40" y1="413.74" x2="60.90" y2="413.74" stroke="#222" stroke-width="0.6" />
<line x1="59.40" y1="413.19" x2="60.90" y2="413.19" stroke="#222" stroke-width="0.6" />
<line x1="58.30" y1="412.70" x2="60.90" y2="412.70" stroke="#111" stroke-width="1.0" />
<line x1="59.40" y1="409.47" x2="60.90" y2="409.47" stroke="#222" stroke-width="0.6" />
<line x1="59.40" y1="407.58" x2="60.90" y2="407.58" stroke="#222" stroke-width="0.6" />
<line x1="59.40" y1="406.24" x2="60.90" y2="406.24" stroke="#222" stroke-width="0.6" />
<line x1="59.40" y1="405.20" x2="60.90" y2="405.20" stroke="#222" stroke-width="0.6" />
<line x1="59.40" y1="404.35" x2="60.90" y2="404.35" stroke="#222" stroke-width="0.6" />
<line x1="59.40" y1="403.63" x2="60.90" y2="403.63" stroke="#222" stroke-width="0.6" />
<line x1="59.40" y1="403.01" x2="60.90" y2="403.01" stroke="#222" stroke-width="0.6" />
<line x1="59.40" y1="402.46" x2="60.90" y2="402.46" stroke="#222" stroke-width="0.6" />
<line x1="58.30" y1="401.97" x2="60.90" y2="401.97" stroke="#111" stroke-width="1.0" />
<line x1="59.40" y1="398.74" x2="60.90" y2="398.74" stroke="#222" stroke-width="0.6" />
<line x1="59.40" y1="396.85" x2="60.90" y2="396.85" stroke="#222" stroke-width="0.6" />
<line x1="59.40" y1="395.51" x2="60.90" y2="395.51" stroke="#222" stroke-width="0.6" />
<text x="56.4" y="523.90" font-family='"Liberation Sans", Arial, sans-serif' font-size="10" text-anchor="end" fill="#111">10<tspan dy="-4.4" font-size="7">-12</tspan></text>
<text x="56.4" y="491.71" font-family='"Liberation Sans", Arial, sans-serif' font-size="10" text-anchor="end" fill="#111">10<tspan dy="-4.4" font-size="7">-9</tspan></text>
<text x="56.4" y="459.52" font-family='"Liberation Sans", Arial, sans-serif' font-size="10" text-anchor="end" fill="#111">10<tspan dy="-4.4" font-size="7">-6</tspan></text>
<text x="56.4" y="427.33" font-family='"Liberation Sans", Arial, sans-serif' font-size="10" text-anchor="end" fill="#111">10<tspan dy="-4.4" font-size="7">-3</tspan></text>
<line x1="62.55" y1="520.00" x2="62.55" y2="521.60" stroke="#111" stroke-width="0.9" />
<line x1="73.70" y1="520.00" x2="73.70" y2="522.60" stroke="#111" stroke-width="0.9" />
<line x1="84.85" y1="520.00" x2="84.85" y2="521.60" stroke="#111" stroke-width="0.9" />
<line x1="96.00" y1="520.00" x2="96.00" y2="522.60" stroke="#111" stroke-width="0.9" />
<line x1="107.15" y1="520.00" x2="107.15" y2="521.60" stroke="#111" stroke-width="0.9" />
<line x1="118.30" y1="520.00" x2="118.30" y2="522.60" stroke="#111" stroke-width="0.9" />
<line x1="129.45" y1="520.00" x2="129.45" y2="521.60" stroke="#111" stroke-width="0.9" />
<line x1="140.60" y1="520.00" x2="140.60" y2="522.60" stroke="#111" stroke-width="0.9" />
<line x1="151.75" y1="520.00" x2="151.75" y2="521.60" stroke="#111" stroke-width="0.9" />
<line x1="162.90" y1="520.00" x2="162.90" y2="522.60" stroke="#111" stroke-width="0.9" />
<line x1="174.05" y1="520.00" x2="174.05" y2="521.60" stroke="#111" stroke-width="0.9" />
<line x1="185.20" y1="520.00" x2="185.20" y2="522.60" stroke="#111" stroke-width="0.9" />
<line x1="196.35" y1="520.00" x2="196.35" y2="521.60" stroke="#111" stroke-width="0.9" />
<line x1="207.50" y1="520.00" x2="207.50" y2="522.60" stroke="#111" stroke-width="0.9" />
<text x="72.20" y="533.60" font-family='"Liberation Sans", Arial, sans-serif' font-size="10" font-weight="normal" text-anchor="middle" fill="#111" >-6</text>
<text x="94.50" y="533.60" font-family='"Liberation Sans", Arial, sans-serif' font-size="10" font-weight="normal" text-anchor="middle" fill="#111" >-4</text>
<text x="116.80" y="533.60" font-family='"Liberation Sans", Arial, sans-serif' font-size="10" font-weight="normal" text-anchor="middle" fill="#111" >-2</text>
<text x="140.60" y="533.60" font-family='"Liberation Sans", Arial, sans-serif' font-size="10" font-weight="normal" text-anchor="middle" fill="#111" >0</text>
<text x="162.90" y="533.60" font-family='"Liberation Sans", Arial, sans-serif' font-size="10" font-weight="normal" text-anchor="middle" fill="#111" >2</text>
<text x="185.20" y="533.60" font-family='"Liberation Sans", Arial, sans-serif' font-size="10" font-weight="normal" text-anchor="middle" fill="#111" >4</text>
<text x="207.50" y="533.60" font-family='"Liberation Sans", Arial, sans-serif' font-size="10" font-weight="normal" text-anchor="middle" fill="#111" >6</text>
<text x="139.50" y="545.00" font-family='"Liberation Sans", Arial, sans-serif' font-size="10.5" font-weight="normal" text-anchor="middle" fill="#111" >Voltage(V)</text>
<text transform="translate(36.0,457.5) rotate(-90)" font-family='"Liberation Sans", Arial, sans-serif' font-size="10.5" text-anchor="middle" fill="#111">Current (A)</text>
<polyline points="111.61,402.52 112.09,402.55 112.58,402.58 113.06,402.62 113.54,402.66 114.03,402.70 114.51,402.74 114.99,402.79 115.48,402.84 115.96,402.89 116.44,402.94 116.92,403.00 117.41,403.06 117.89,403.13 118.37,403.20 118.86,403.27 119.34,403.35 119.82,403.43 120.31,403.51 120.79,403.61 121.27,403.70 121.76,403.81 122.24,403.92 122.72,404.03 123.21,404.16 123.69,404.28 124.17,404.42 124.66,404.57 125.14,404.72 125.62,404.89 126.10,405.06 126.59,405.24 127.07,405.44 127.55,405.65 128.04,405.86 128.52,406.10 129.00,406.34 129.49,406.60 129.97,406.88 130.45,407.17 130.94,407.48 131.42,407.80 131.90,408.15 132.39,408.52 132.87,408.91 133.35,409.32 133.84,409.76 134.32,410.22 134.80,410.71 135.29,411.23 135.77,411.78 136.25,412.37 136.73,412.99 137.22,413.64 137.70,414.34 138.18,415.07 138.67,415.85 139.15,416.68 139.63,417.55 140.12,418.48 140.60,419.46" stroke="#21b05a" stroke-width="3.2" fill="none" stroke-linecap="round" stroke-linejoin="round" />
<polyline points="72.58,402.00 73.31,402.00 74.03,402.01 74.75,402.01 75.47,402.01 76.19,402.01 76.92,402.02 77.64,402.02 78.36,402.02 79.08,402.03 79.80,402.03 80.53,402.04 81.25,402.04 81.97,402.05 82.69,402.05 83.41,402.06 84.14,402.07 84.86,402.07 85.58,402.08 86.30,402.09 87.02,402.10 87.75,402.11 88.47,402.12 89.19,402.13 89.91,402.14 90.63,402.15 91.36,402.17 92.08,402.18 92.80,402.20 93.52,402.22 94.24,402.23 94.97,402.25 95.69,402.28 96.41,402.30 97.13,402.32 97.85,402.35 98.58,402.38 99.30,402.41 100.02,402.44 100.74,402.48 101.46,402.51 102.19,402.55 102.91,402.60 103.63,402.64 104.35,402.69 105.07,402.75 105.80,402.81 106.52,402.87 107.24,402.94 107.96,403.01 108.68,403.09 109.41,403.17 110.13,403.26 110.85,403.35 111.57,403.46 112.29,403.57 113.01,403.69 113.74,403.82 114.46,403.95 115.18,404.10 115.90,404.26 116.62,404.43 117.35,404.62 118.07,404.81 118.79,405.02 119.51,405.25 120.23,405.50 120.96,405.76 121.68,406.04 122.40,406.35 123.12,406.67 123.84,407.02 124.57,407.40 125.29,407.81 126.01,408.24 126.73,408.71 127.45,409.21 128.18,409.75 128.90,410.33 129.62,410.96 130.34,411.63" stroke="#1e62a8" stroke-width="3.2" fill="none" stroke-linecap="round" stroke-linejoin="round" />
<polyline points="140.60,419.46 141.40,413.83 142.20,412.63 143.00,411.81 143.80,411.17 144.60,410.63 145.39,410.17 146.19,409.76 146.99,409.39 147.79,409.05 148.59,408.74 149.39,408.45 150.19,408.18 150.99,407.92 151.79,407.68 152.59,407.45 153.39,407.23 154.18,407.02 154.98,406.82 155.78,406.63 156.58,406.44 157.38,406.26 158.18,406.09 158.98,405.92 159.78,405.76 160.58,405.60 161.38,405.45 162.18,405.30 162.97,405.16 163.77,405.02 164.57,404.88 165.37,404.74 166.17,404.61 166.97,404.48 167.77,404.36 168.57,404.24 169.37,404.11 170.17,404.00 170.97,403.88 171.76,403.77 172.56,403.66 173.36,403.55 174.16,403.44 174.96,403.33 175.76,403.23 176.56,403.13 177.36,403.02 178.16,402.93 178.96,402.83 179.76,402.73 180.55,402.64 181.35,402.54 182.15,402.45 182.95,402.36 183.75,402.27 184.55,402.18 185.35,402.09 186.15,402.01 186.95,401.92 187.75,401.84 188.54,401.76" stroke="#f37ced" stroke-width="3.0" fill="none" stroke-linecap="round" stroke-linejoin="round" />
<polyline points="188.54,401.76 188.54,437.49" stroke="#f37ced" stroke-width="1.0" fill="none" stroke-linecap="round" stroke-linejoin="round" />
<polyline points="140.60,419.46 140.60,438.77" stroke="#f37ced" stroke-width="1.0" fill="none" stroke-linecap="round" stroke-linejoin="round" />
<circle cx="188.54" cy="404.65" r="1.2" fill="none" stroke="#f37ced" stroke-width="0.9"/>
<circle cx="140.60" cy="438.77" r="1.3" fill="none" stroke="#f37ced" stroke-width="0.9"/>
<circle cx="140.60" cy="422.36" r="1.3" fill="none" stroke="#f37ced" stroke-width="0.9"/>
<polyline points="124.54,410.98 124.54,438.99" stroke="#f4b41a" stroke-width="1.1" fill="none" stroke-linecap="round" stroke-linejoin="round" />
<polyline points="124.54,437.38 125.21,441.67 126.66,444.35 128.33,447.04" stroke="#f4b41a" stroke-width="2.6" fill="none" stroke-linecap="round" stroke-linejoin="round" />
<polyline points="130.34,411.63 130.34,445.43" stroke="#1e62a8" stroke-width="1.0" fill="none" stroke-linecap="round" stroke-linejoin="round" />
<polyline points="130.34,445.96 130.60,446.36 130.85,446.76 131.11,447.16 131.37,447.57 131.62,447.97 131.88,448.39 132.14,448.80 132.39,449.22 132.65,449.65 132.91,450.07 133.16,450.50 133.42,450.94 133.68,451.38 133.93,451.83 134.19,452.28 134.45,452.74 134.70,453.20 134.96,453.67 135.21,454.14 135.47,454.63 135.73,455.11 135.98,455.61 136.24,456.12 136.50,456.63 136.75,457.16 137.01,457.69 137.27,458.24 137.52,458.80 137.78,459.37 138.04,459.96 138.29,460.56 138.55,461.19 138.80,461.84 139.06,462.52 139.32,463.24 139.57,464.00 139.83,464.82 140.09,465.73 140.34,466.79 140.60,468.50-0.00j" stroke="#1e62a8" stroke-width="3.0" fill="none" stroke-linecap="round" stroke-linejoin="round" />
<polyline points="128.33,447.04 130.01,450.25 131.68,453.47" stroke="#f4b41a" stroke-width="1.6" fill="none" stroke-linecap="round" stroke-linejoin="round" />
<polyline points="140.93,483.95 141.73,480.80 142.30,479.92 142.87,479.16 143.44,478.47 144.01,477.83 144.59,477.23 145.16,476.67 145.73,476.14 146.30,475.63 146.87,475.14 147.44,474.66 148.01,474.21 148.59,473.76 149.16,473.33 149.73,472.91 150.30,472.50 150.87,472.10 151.44,471.71 152.01,471.33 152.59,470.95 153.16,470.58 153.73,470.22 154.30,469.87 154.87,469.52 155.44,469.17 156.01,468.83 156.59,468.50 157.16,468.17 157.73,467.85 158.30,467.53 158.87,467.21 159.44,466.90 160.01,466.59 160.59,466.29 161.16,465.98 161.73,465.69 162.30,465.39 162.87,465.10 163.44,464.81 164.01,464.53" stroke="#2ab4ea" stroke-width="3.0" fill="none" stroke-linecap="round" stroke-linejoin="round" />
<polyline points="164.01,464.53 164.01,449.83" stroke="#2ab4ea" stroke-width="1.1" fill="none" stroke-linecap="round" stroke-linejoin="round" />
<polyline points="140.60,467.42 141.44,461.66 142.27,459.55 143.11,457.97 143.94,456.67 144.78,455.53 145.62,454.52 146.45,453.59 147.29,452.73 148.13,451.93 148.96,451.18 149.80,450.47 150.63,449.79 151.47,449.14 152.31,448.52 153.14,447.93 153.98,447.35 154.82,446.80 155.65,446.26 156.49,445.74 157.32,445.23 158.16,444.74 159.00,444.26 159.83,443.79 160.67,443.34 161.51,442.89 162.34,442.64 163.18,442.51 164.01,442.39 164.85,442.27 165.69,442.16 166.52,442.05 167.36,441.94 168.20,441.83 169.03,441.72 169.87,441.62 170.70,441.51 171.54,441.41 172.38,441.31 173.21,441.20 174.05,441.10 174.89,441.00 175.72,440.90 176.56,440.80 177.39,440.70 178.23,440.61 179.07,440.51 179.90,440.41 180.74,440.31 181.58,440.22 182.41,440.12 183.25,440.03 184.08,439.93 184.92,439.84 185.76,439.74 186.59,439.65 187.43,439.56 188.27,439.46 189.10,439.37 189.94,439.28 190.78,439.18 191.61,439.09 192.45,439.00 193.28,438.91 194.12,438.82 194.96,438.72 195.79,438.63 196.63,438.54 197.46,438.45 198.30,438.36 199.14,438.27 199.97,438.18 200.81,438.09 201.65,438.00 202.48,437.91 203.32,437.82 204.16,437.73 204.99,437.64 205.83,437.56 206.66,437.47 207.50,437.38" stroke="#a94be8" stroke-width="3.2" fill="none" stroke-linecap="round" stroke-linejoin="round" />
<polyline points="140.60,468.50 141.44,462.73 142.27,460.62 143.11,459.05 143.94,457.74 144.78,456.61 145.62,455.59 146.45,454.66 147.29,453.80 148.13,453.01 148.96,452.25 149.80,451.54 150.63,450.86 151.47,450.22 152.31,449.60 153.14,449.00 153.98,448.43 154.82,447.87 155.65,447.33 156.49,446.81 157.32,446.31 158.16,445.81 159.00,445.34 159.83,444.87 160.67,444.41 161.51,443.96 162.34,443.72 163.18,443.59 164.01,443.46 164.85,443.35 165.69,443.23 166.52,443.12 167.36,443.01 168.20,442.90 169.03,442.79 169.87,442.69 170.70,442.58 171.54,442.48 172.38,442.38 173.21,442.28 174.05,442.18 174.89,442.07 175.72,441.98 176.56,441.88 177.39,441.78 178.23,441.68 179.07,441.58 179.90,441.48 180.74,441.39 181.58,441.29 182.41,441.20 183.25,441.10 184.08,441.01 184.92,440.91 185.76,440.82 186.59,440.72 187.43,440.63 188.27,440.53 189.10,440.44 189.94,440.35 190.78,440.26 191.61,440.16 192.45,440.07 193.28,439.98 194.12,439.89 194.96,439.80 195.79,439.71 196.63,439.62 197.46,439.52 198.30,439.43 199.14,439.34 199.97,439.25 200.81,439.16 201.65,439.07 202.48,438.98 203.32,438.90 204.16,438.81 204.99,438.72 205.83,438.63 206.66,438.54 207.50,438.45" stroke="#f26a6a" stroke-width="3.2" fill="none" stroke-linecap="round" stroke-linejoin="round" />
<polyline points="164.01,449.83 166.25,444.89" stroke="#2ab4ea" stroke-width="1.0" fill="none" stroke-linecap="round" stroke-linejoin="round" />
<circle cx="171.82" cy="435.20" r="1.5" fill="none" stroke="#2ab4ea" stroke-width="0.9"/>
<circle cx="173.20" cy="434.26" r="1.5" fill="none" stroke="#2ab4ea" stroke-width="0.9"/>
<circle cx="174.59" cy="435.38" r="1.5" fill="none" stroke="#2ab4ea" stroke-width="0.9"/>
<circle cx="175.97" cy="433.15" r="1.5" fill="none" stroke="#2ab4ea" stroke-width="0.9"/>
<circle cx="177.35" cy="432.06" r="1.5" fill="none" stroke="#2ab4ea" stroke-width="0.9"/>
<circle cx="178.73" cy="435.21" r="1.5" fill="none" stroke="#2ab4ea" stroke-width="0.9"/>
<circle cx="180.12" cy="436.25" r="1.5" fill="none" stroke="#2ab4ea" stroke-width="0.9"/>
<circle cx="181.50" cy="432.30" r="1.5" fill="none" stroke="#2ab4ea" stroke-width="0.9"/>
<circle cx="182.88" cy="436.13" r="1.5" fill="none" stroke="#2ab4ea" stroke-width="0.9"/>
<circle cx="184.26" cy="435.66" r="1.5" fill="none" stroke="#2ab4ea" stroke-width="0.9"/>
<circle cx="185.65" cy="430.06" r="1.5" fill="none" stroke="#2ab4ea" stroke-width="0.9"/>
<circle cx="187.03" cy="432.73" r="1.5" fill="none" stroke="#2ab4ea" stroke-width="0.9"/>
<circle cx="188.41" cy="431.03" r="1.5" fill="none" stroke="#2ab4ea" stroke-width="0.9"/>
<circle cx="189.79" cy="434.22" r="1.5" fill="none" stroke="#2ab4ea" stroke-width="0.9"/>
<circle cx="191.18" cy="433.85" r="1.5" fill="none" stroke="#2ab4ea" stroke-width="0.9"/>
<circle cx="192.56" cy="436.42" r="1.5" fill="none" stroke="#2ab4ea" stroke-width="0.9"/>
<circle cx="193.94" cy="432.50" r="1.5" fill="none" stroke="#2ab4ea" stroke-width="0.9"/>
<circle cx="195.32" cy="430.38" r="1.5" fill="none" stroke="#2ab4ea" stroke-width="0.9"/>
<circle cx="196.71" cy="432.68" r="1.5" fill="none" stroke="#2ab4ea" stroke-width="0.9"/>
<circle cx="198.09" cy="432.33" r="1.5" fill="none" stroke="#2ab4ea" stroke-width="0.9"/>
<circle cx="199.47" cy="433.57" r="1.5" fill="none" stroke="#2ab4ea" stroke-width="0.9"/>
<circle cx="200.85" cy="437.14" r="1.5" fill="none" stroke="#2ab4ea" stroke-width="0.9"/>
<circle cx="202.24" cy="432.06" r="1.5" fill="none" stroke="#2ab4ea" stroke-width="0.9"/>
<circle cx="203.62" cy="432.17" r="1.5" fill="none" stroke="#2ab4ea" stroke-width="0.9"/>
<circle cx="205.00" cy="433.85" r="1.5" fill="none" stroke="#2ab4ea" stroke-width="0.9"/>
<circle cx="206.38" cy="436.30" r="1.5" fill="none" stroke="#2ab4ea" stroke-width="0.9"/>
<polyline points="171.82,438.45 171.82,433.09" stroke="#2ab4ea" stroke-width="1.0" fill="none" stroke-linecap="round" stroke-linejoin="round" />
<circle cx="207.50" cy="433.30" r="1.5" fill="none" stroke="#2ab4ea" stroke-width="0.9"/>
<polyline points="141.05,483.52 141.05,515.71" stroke="#a94be8" stroke-width="0.9" fill="none" stroke-linecap="round" stroke-linejoin="round" />
<polyline points="140.82,468.50 140.82,507.66" stroke="#f26a6a" stroke-width="0.9" fill="none" stroke-linecap="round" stroke-linejoin="round" />
<polyline points="140.60,468.50 140.60,509.27" stroke="#1e62a8" stroke-width="1.5" fill="none" stroke-linecap="round" stroke-linejoin="round" />
<circle cx="140.60" cy="507.66" r="1.5" fill="#f26a6a"/>
<circle cx="140.60" cy="509.81" r="1.5" fill="#1e62a8"/>
<circle cx="140.60" cy="515.92" r="1.5" fill="#a94be8"/>
<circle cx="140.60" cy="485.66" r="1.5" fill="#f4b41a"/>
<circle cx="140.60" cy="468.50" r="1.5" fill="#1e62a8"/>
<circle cx="140.60" cy="483.52" r="1.5" fill="#2ab4ea"/>
<line x1="130.40" y1="401.50" x2="120.69" y2="398.68" stroke="#222" stroke-width="0.8" />
<polygon points="118.00,397.90 121.02,397.53 120.35,399.83" fill="#222"/>
<line x1="149.60" y1="401.50" x2="157.55" y2="399.94" stroke="#222" stroke-width="0.8" />
<polygon points="160.30,399.40 157.78,401.12 157.32,398.76" fill="#222"/>
<line x1="191.90" y1="413.00" x2="191.90" y2="416.70" stroke="#222" stroke-width="0.8" />
<polygon points="191.90,419.50 190.70,416.70 193.10,416.70" fill="#222"/>
<line x1="121.90" y1="427.60" x2="121.90" y2="425.50" stroke="#222" stroke-width="0.8" />
<polygon points="121.90,422.70 123.10,425.50 120.70,425.50" fill="#222"/>
<line x1="167.00" y1="457.50" x2="167.00" y2="455.30" stroke="#222" stroke-width="0.8" />
<polygon points="167.00,452.50 168.20,455.30 165.80,455.30" fill="#222"/>
<line x1="151.50" y1="479.30" x2="157.41" y2="475.12" stroke="#222" stroke-width="0.8" />
<polygon points="159.70,473.50 158.11,476.10 156.72,474.14" fill="#222"/>
<line x1="146.60" y1="445.70" x2="152.19" y2="443.52" stroke="#222" stroke-width="0.8" />
<polygon points="154.80,442.50 152.63,444.64 151.76,442.40" fill="#222"/>
<path d="M124.5,451.5 Q131,455 133.6,462.0" stroke="#222" stroke-width="0.8" fill="none"/>
<polygon points="134.4,465.0 131.9,461.8 135.2,461.2" fill="#111"/>
<line x1="65.60" y1="457.40" x2="84.30" y2="457.40" stroke="#2ab4ea" stroke-width="1.1" />
<circle cx="74.60" cy="457.40" r="1.90" fill="#2ab4ea" />
<text x="86.60" y="460.70" font-family='"Liberation Sans", Arial, sans-serif' font-size="9.2" font-weight="normal" text-anchor="start" fill="#111" >1st</text>
<line x1="65.60" y1="466.58" x2="84.30" y2="466.58" stroke="#a94be8" stroke-width="1.1" />
<circle cx="74.60" cy="466.58" r="1.90" fill="#a94be8" />
<text x="86.60" y="469.88" font-family='"Liberation Sans", Arial, sans-serif' font-size="9.2" font-weight="normal" text-anchor="start" fill="#111" >2nd</text>
<line x1="65.60" y1="475.76" x2="84.30" y2="475.76" stroke="#f4b41a" stroke-width="1.1" />
<circle cx="74.60" cy="475.76" r="1.90" fill="#f4b41a" />
<text x="86.60" y="479.06" font-family='"Liberation Sans", Arial, sans-serif' font-size="9.2" font-weight="normal" text-anchor="start" fill="#111" >3rd</text>
<line x1="65.60" y1="484.94" x2="84.30" y2="484.94" stroke="#21b05a" stroke-width="1.1" />
<circle cx="74.60" cy="484.94" r="1.90" fill="#21b05a" />
<text x="86.60" y="488.24" font-family='"Liberation Sans", Arial, sans-serif' font-size="9.2" font-weight="normal" text-anchor="start" fill="#111" >4th</text>
<line x1="65.60" y1="494.12" x2="84.30" y2="494.12" stroke="#f37ced" stroke-width="1.1" />
<circle cx="74.60" cy="494.12" r="1.90" fill="#f37ced" />
<text x="86.60" y="497.42" font-family='"Liberation Sans", Arial, sans-serif' font-size="9.2" font-weight="normal" text-anchor="start" fill="#111" >5th</text>
<line x1="65.60" y1="503.30" x2="84.30" y2="503.30" stroke="#f26a6a" stroke-width="1.1" />
<circle cx="74.60" cy="503.30" r="1.90" fill="#f26a6a" />
<text x="86.60" y="506.60" font-family='"Liberation Sans", Arial, sans-serif' font-size="9.2" font-weight="normal" text-anchor="start" fill="#111" >6th</text>
<line x1="65.60" y1="512.48" x2="84.30" y2="512.48" stroke="#1e62a8" stroke-width="1.1" />
<circle cx="74.60" cy="512.48" r="1.90" fill="#1e62a8" />
<text x="86.60" y="515.78" font-family='"Liberation Sans", Arial, sans-serif' font-size="9.2" font-weight="normal" text-anchor="start" fill="#111" >7th</text>
<line x1="304.70" y1="395.50" x2="304.70" y2="525.40" stroke="#111" stroke-width="1.3" />
<line x1="304.10" y1="524.80" x2="468.00" y2="524.80" stroke="#111" stroke-width="1.3" />
<line x1="303.30" y1="521.85" x2="304.70" y2="521.85" stroke="#222" stroke-width="0.6" />
<line x1="303.30" y1="518.95" x2="304.70" y2="518.95" stroke="#222" stroke-width="0.6" />
<line x1="303.30" y1="516.90" x2="304.70" y2="516.90" stroke="#222" stroke-width="0.6" />
<line x1="303.30" y1="515.30" x2="304.70" y2="515.30" stroke="#222" stroke-width="0.6" />
<line x1="303.30" y1="514.00" x2="304.70" y2="514.00" stroke="#222" stroke-width="0.6" />
<line x1="303.30" y1="512.90" x2="304.70" y2="512.90" stroke="#222" stroke-width="0.6" />
<line x1="303.30" y1="511.94" x2="304.70" y2="511.94" stroke="#222" stroke-width="0.6" />
<line x1="303.30" y1="511.10" x2="304.70" y2="511.10" stroke="#222" stroke-width="0.6" />
<line x1="302.30" y1="510.35" x2="304.70" y2="510.35" stroke="#111" stroke-width="1.0" />
<line x1="303.30" y1="505.40" x2="304.70" y2="505.40" stroke="#222" stroke-width="0.6" />
<line x1="303.30" y1="502.50" x2="304.70" y2="502.50" stroke="#222" stroke-width="0.6" />
<line x1="303.30" y1="500.45" x2="304.70" y2="500.45" stroke="#222" stroke-width="0.6" />
<line x1="303.30" y1="498.85" x2="304.70" y2="498.85" stroke="#222" stroke-width="0.6" />
<line x1="303.30" y1="497.55" x2="304.70" y2="497.55" stroke="#222" stroke-width="0.6" />
<line x1="303.30" y1="496.45" x2="304.70" y2="496.45" stroke="#222" stroke-width="0.6" />
<line x1="303.30" y1="495.49" x2="304.70" y2="495.49" stroke="#222" stroke-width="0.6" />
<line x1="303.30" y1="494.65" x2="304.70" y2="494.65" stroke="#222" stroke-width="0.6" />
<line x1="302.30" y1="493.90" x2="304.70" y2="493.90" stroke="#111" stroke-width="1.0" />
<line x1="303.30" y1="488.95" x2="304.70" y2="488.95" stroke="#222" stroke-width="0.6" />
<line x1="303.30" y1="486.05" x2="304.70" y2="486.05" stroke="#222" stroke-width="0.6" />
<line x1="303.30" y1="484.00" x2="304.70" y2="484.00" stroke="#222" stroke-width="0.6" />
<line x1="303.30" y1="482.40" x2="304.70" y2="482.40" stroke="#222" stroke-width="0.6" />
<line x1="303.30" y1="481.10" x2="304.70" y2="481.10" stroke="#222" stroke-width="0.6" />
<line x1="303.30" y1="480.00" x2="304.70" y2="480.00" stroke="#222" stroke-width="0.6" />
<line x1="303.30" y1="479.04" x2="304.70" y2="479.04" stroke="#222" stroke-width="0.6" />
<line x1="303.30" y1="478.20" x2="304.70" y2="478.20" stroke="#222" stroke-width="0.6" />
<line x1="302.30" y1="477.45" x2="304.70" y2="477.45" stroke="#111" stroke-width="1.0" />
<line x1="303.30" y1="472.50" x2="304.70" y2="472.50" stroke="#222" stroke-width="0.6" />
<line x1="303.30" y1="469.60" x2="304.70" y2="469.60" stroke="#222" stroke-width="0.6" />
<line x1="303.30" y1="467.55" x2="304.70" y2="467.55" stroke="#222" stroke-width="0.6" />
<line x1="303.30" y1="465.95" x2="304.70" y2="465.95" stroke="#222" stroke-width="0.6" />
<line x1="303.30" y1="464.65" x2="304.70" y2="464.65" stroke="#222" stroke-width="0.6" />
<line x1="303.30" y1="463.55" x2="304.70" y2="463.55" stroke="#222" stroke-width="0.6" />
<line x1="303.30" y1="462.59" x2="304.70" y2="462.59" stroke="#222" stroke-width="0.6" />
<line x1="303.30" y1="461.75" x2="304.70" y2="461.75" stroke="#222" stroke-width="0.6" />
<line x1="302.30" y1="461.00" x2="304.70" y2="461.00" stroke="#111" stroke-width="1.0" />
<line x1="303.30" y1="456.05" x2="304.70" y2="456.05" stroke="#222" stroke-width="0.6" />
<line x1="303.30" y1="453.15" x2="304.70" y2="453.15" stroke="#222" stroke-width="0.6" />
<line x1="303.30" y1="451.10" x2="304.70" y2="451.10" stroke="#222" stroke-width="0.6" />
<line x1="303.30" y1="449.50" x2="304.70" y2="449.50" stroke="#222" stroke-width="0.6" />
<line x1="303.30" y1="448.20" x2="304.70" y2="448.20" stroke="#222" stroke-width="0.6" />
<line x1="303.30" y1="447.10" x2="304.70" y2="447.10" stroke="#222" stroke-width="0.6" />
<line x1="303.30" y1="446.14" x2="304.70" y2="446.14" stroke="#222" stroke-width="0.6" />
<line x1="303.30" y1="445.30" x2="304.70" y2="445.30" stroke="#222" stroke-width="0.6" />
<line x1="302.30" y1="444.55" x2="304.70" y2="444.55" stroke="#111" stroke-width="1.0" />
<line x1="303.30" y1="439.60" x2="304.70" y2="439.60" stroke="#222" stroke-width="0.6" />
<line x1="303.30" y1="436.70" x2="304.70" y2="436.70" stroke="#222" stroke-width="0.6" />
<line x1="303.30" y1="434.65" x2="304.70" y2="434.65" stroke="#222" stroke-width="0.6" />
<line x1="303.30" y1="433.05" x2="304.70" y2="433.05" stroke="#222" stroke-width="0.6" />
<line x1="303.30" y1="431.75" x2="304.70" y2="431.75" stroke="#222" stroke-width="0.6" />
<line x1="303.30" y1="430.65" x2="304.70" y2="430.65" stroke="#222" stroke-width="0.6" />
<line x1="303.30" y1="429.69" x2="304.70" y2="429.69" stroke="#222" stroke-width="0.6" />
<line x1="303.30" y1="428.85" x2="304.70" y2="428.85" stroke="#222" stroke-width="0.6" />
<line x1="302.30" y1="428.10" x2="304.70" y2="428.10" stroke="#111" stroke-width="1.0" />
<line x1="303.30" y1="423.15" x2="304.70" y2="423.15" stroke="#222" stroke-width="0.6" />
<line x1="303.30" y1="420.25" x2="304.70" y2="420.25" stroke="#222" stroke-width="0.6" />
<line x1="303.30" y1="418.20" x2="304.70" y2="418.20" stroke="#222" stroke-width="0.6" />
<line x1="303.30" y1="416.60" x2="304.70" y2="416.60" stroke="#222" stroke-width="0.6" />
<line x1="303.30" y1="415.30" x2="304.70" y2="415.30" stroke="#222" stroke-width="0.6" />
<line x1="303.30" y1="414.20" x2="304.70" y2="414.20" stroke="#222" stroke-width="0.6" />
<line x1="303.30" y1="413.24" x2="304.70" y2="413.24" stroke="#222" stroke-width="0.6" />
<line x1="303.30" y1="412.40" x2="304.70" y2="412.40" stroke="#222" stroke-width="0.6" />
<line x1="302.30" y1="411.65" x2="304.70" y2="411.65" stroke="#111" stroke-width="1.0" />
<line x1="303.30" y1="406.70" x2="304.70" y2="406.70" stroke="#222" stroke-width="0.6" />
<line x1="303.30" y1="403.80" x2="304.70" y2="403.80" stroke="#222" stroke-width="0.6" />
<line x1="303.30" y1="401.75" x2="304.70" y2="401.75" stroke="#222" stroke-width="0.6" />
<line x1="303.30" y1="400.15" x2="304.70" y2="400.15" stroke="#222" stroke-width="0.6" />
<line x1="303.30" y1="398.85" x2="304.70" y2="398.85" stroke="#222" stroke-width="0.6" />
<line x1="303.30" y1="397.75" x2="304.70" y2="397.75" stroke="#222" stroke-width="0.6" />
<line x1="303.30" y1="396.79" x2="304.70" y2="396.79" stroke="#222" stroke-width="0.6" />
<line x1="303.30" y1="395.95" x2="304.70" y2="395.95" stroke="#222" stroke-width="0.6" />
<text x="302.3" y="497.20" font-family='"Liberation Sans", Arial, sans-serif' font-size="10" text-anchor="end" fill="#111">10<tspan dy="-4.6" font-size="7">3</tspan></text>
<text x="302.3" y="464.30" font-family='"Liberation Sans", Arial, sans-serif' font-size="10" text-anchor="end" fill="#111">10<tspan dy="-4.6" font-size="7">5</tspan></text>
<text x="302.3" y="431.40" font-family='"Liberation Sans", Arial, sans-serif' font-size="10" text-anchor="end" fill="#111">10<tspan dy="-4.6" font-size="7">7</tspan></text>
<text transform="translate(281.2,461.5) rotate(-90)" font-family='"Liberation Sans", Arial, sans-serif' font-size="10.6" text-anchor="middle" fill="#111" textLength="71.5" lengthAdjust="spacingAndGlyphs">Resistance (Ω)</text>
<line x1="311.70" y1="524.80" x2="311.70" y2="527.30" stroke="#111" stroke-width="0.9" />
<text x="311.70" y="537.50" font-family='"Liberation Sans", Arial, sans-serif' font-size="10" font-weight="normal" text-anchor="middle" fill="#111" >1</text>
<line x1="325.18" y1="524.80" x2="325.18" y2="527.30" stroke="#111" stroke-width="0.9" />
<text x="325.18" y="537.50" font-family='"Liberation Sans", Arial, sans-serif' font-size="10" font-weight="normal" text-anchor="middle" fill="#111" >2</text>
<line x1="338.66" y1="524.80" x2="338.66" y2="527.30" stroke="#111" stroke-width="0.9" />
<text x="338.66" y="537.50" font-family='"Liberation Sans", Arial, sans-serif' font-size="10" font-weight="normal" text-anchor="middle" fill="#111" >3</text>
<line x1="352.14" y1="524.80" x2="352.14" y2="527.30" stroke="#111" stroke-width="0.9" />
<text x="352.14" y="537.50" font-family='"Liberation Sans", Arial, sans-serif' font-size="10" font-weight="normal" text-anchor="middle" fill="#111" >4</text>
<line x1="365.62" y1="524.80" x2="365.62" y2="527.30" stroke="#111" stroke-width="0.9" />
<text x="365.62" y="537.50" font-family='"Liberation Sans", Arial, sans-serif' font-size="10" font-weight="normal" text-anchor="middle" fill="#111" >1</text>
<line x1="379.10" y1="524.80" x2="379.10" y2="527.30" stroke="#111" stroke-width="0.9" />
<text x="379.10" y="537.50" font-family='"Liberation Sans", Arial, sans-serif' font-size="10" font-weight="normal" text-anchor="middle" fill="#111" >2</text>
<line x1="392.58" y1="524.80" x2="392.58" y2="527.30" stroke="#111" stroke-width="0.9" />
<text x="392.58" y="537.50" font-family='"Liberation Sans", Arial, sans-serif' font-size="10" font-weight="normal" text-anchor="middle" fill="#111" >3</text>
<line x1="406.06" y1="524.80" x2="406.06" y2="527.30" stroke="#111" stroke-width="0.9" />
<text x="406.06" y="537.50" font-family='"Liberation Sans", Arial, sans-serif' font-size="10" font-weight="normal" text-anchor="middle" fill="#111" >4</text>
<line x1="419.54" y1="524.80" x2="419.54" y2="527.30" stroke="#111" stroke-width="0.9" />
<text x="419.54" y="537.50" font-family='"Liberation Sans", Arial, sans-serif' font-size="10" font-weight="normal" text-anchor="middle" fill="#111" >1</text>
<line x1="433.02" y1="524.80" x2="433.02" y2="527.30" stroke="#111" stroke-width="0.9" />
<text x="433.02" y="537.50" font-family='"Liberation Sans", Arial, sans-serif' font-size="10" font-weight="normal" text-anchor="middle" fill="#111" >2</text>
<line x1="446.50" y1="524.80" x2="446.50" y2="527.30" stroke="#111" stroke-width="0.9" />
<text x="446.50" y="537.50" font-family='"Liberation Sans", Arial, sans-serif' font-size="10" font-weight="normal" text-anchor="middle" fill="#111" >3</text>
<line x1="459.98" y1="524.80" x2="459.98" y2="527.30" stroke="#111" stroke-width="0.9" />
<text x="459.98" y="537.50" font-family='"Liberation Sans", Arial, sans-serif' font-size="10" font-weight="normal" text-anchor="middle" fill="#111" >4</text>
<text x="388.60" y="548.80" font-family='"Liberation Sans", Arial, sans-serif' font-size="10.9" font-weight="normal" text-anchor="middle" fill="#111" >Device</text>
<line x1="305.90" y1="518.10" x2="317.50" y2="518.10" stroke="#e8332a" stroke-width="1.6" />
<circle cx="311.70" cy="518.10" r="1.50" fill="#e8332a" />
<line x1="319.38" y1="518.10" x2="330.98" y2="518.10" stroke="#2166ac" stroke-width="1.6" />
<circle cx="325.18" cy="518.10" r="1.50" fill="#2166ac" />
<line x1="332.86" y1="518.10" x2="344.46" y2="518.10" stroke="#f4b41a" stroke-width="1.6" />
<circle cx="338.66" cy="518.10" r="1.50" fill="#f4b41a" />
<line x1="346.34" y1="518.10" x2="357.94" y2="518.10" stroke="#22b573" stroke-width="1.6" />
<circle cx="352.14" cy="518.10" r="1.50" fill="#22b573" />
<text x="334.50" y="509.80" font-family='"Liberation Sans", Arial, sans-serif' font-size="11" font-weight="normal" text-anchor="middle" fill="#111" textLength="40.7" lengthAdjust="spacingAndGlyphs">"2" state</text>
<text x="389.40" y="437.50" font-family='"Liberation Sans", Arial, sans-serif' font-size="11" font-weight="normal" text-anchor="middle" fill="#111" textLength="40.3" lengthAdjust="spacingAndGlyphs">"1" state</text>
<text x="441.70" y="406.30" font-family='"Liberation Sans", Arial, sans-serif' font-size="11" font-weight="normal" text-anchor="middle" fill="#111" textLength="40.4" lengthAdjust="spacingAndGlyphs">"0" state</text>
<rect x="359.87" y="446.90" width="11.50" height="5.90" fill="none" stroke="#5b5bc0" stroke-width="0.9"/>
<line x1="365.62" y1="445.20" x2="365.62" y2="446.90" stroke="#5b5bc0" stroke-width="0.8" />
<line x1="365.62" y1="452.80" x2="365.62" y2="455.00" stroke="#5b5bc0" stroke-width="0.8" />
<line x1="359.87" y1="449.85" x2="371.37" y2="449.85" stroke="#5b5bc0" stroke-width="0.8" />
<circle cx="365.62" cy="449.25" r="1.10" fill="#5b5bc0" />
<circle cx="365.62" cy="445.20" r="0.90" fill="#5b5bc0" />
<circle cx="365.62" cy="455.00" r="0.90" fill="#5b5bc0" />
<rect x="373.35" y="446.90" width="11.50" height="5.90" fill="none" stroke="#9a9a9a" stroke-width="0.9"/>
<line x1="379.10" y1="445.20" x2="379.10" y2="446.90" stroke="#9a9a9a" stroke-width="0.8" />
<line x1="379.10" y1="452.80" x2="379.10" y2="455.00" stroke="#9a9a9a" stroke-width="0.8" />
<line x1="373.35" y1="449.85" x2="384.85" y2="449.85" stroke="#9a9a9a" stroke-width="0.8" />
<circle cx="379.10" cy="449.25" r="1.10" fill="#9a9a9a" />
<circle cx="379.10" cy="445.20" r="0.90" fill="#9a9a9a" />
<circle cx="379.10" cy="455.00" r="0.90" fill="#9a9a9a" />
<rect x="386.83" y="446.30" width="11.50" height="6.50" fill="none" stroke="#e84a50" stroke-width="0.9"/>
<line x1="392.58" y1="444.80" x2="392.58" y2="446.30" stroke="#e84a50" stroke-width="0.8" />
<line x1="392.58" y1="452.80" x2="392.58" y2="455.00" stroke="#e84a50" stroke-width="0.8" />
<line x1="386.83" y1="449.55" x2="398.33" y2="449.55" stroke="#e84a50" stroke-width="0.8" />
<circle cx="392.58" cy="448.95" r="1.10" fill="#e84a50" />
<circle cx="392.58" cy="444.80" r="0.90" fill="#e84a50" />
<circle cx="392.58" cy="455.00" r="0.90" fill="#e84a50" />
<rect x="400.31" y="446.50" width="11.50" height="6.10" fill="none" stroke="#2a96dc" stroke-width="0.9"/>
<line x1="406.06" y1="444.60" x2="406.06" y2="446.50" stroke="#2a96dc" stroke-width="0.8" />
<line x1="406.06" y1="452.60" x2="406.06" y2="455.20" stroke="#2a96dc" stroke-width="0.8" />
<line x1="400.31" y1="449.55" x2="411.81" y2="449.55" stroke="#2a96dc" stroke-width="0.8" />
<circle cx="406.06" cy="448.95" r="1.10" fill="#2a96dc" />
<circle cx="406.06" cy="444.60" r="0.90" fill="#2a96dc" />
<circle cx="406.06" cy="455.20" r="0.90" fill="#2a96dc" />
<rect x="414.04" y="412.50" width="11.00" height="5.40" fill="none" stroke="#e8731a" stroke-width="0.9"/>
<line x1="419.54" y1="410.70" x2="419.54" y2="412.50" stroke="#e8731a" stroke-width="0.8" />
<line x1="419.54" y1="417.90" x2="419.54" y2="422.90" stroke="#e8731a" stroke-width="0.8" />
<line x1="414.04" y1="415.20" x2="425.04" y2="415.20" stroke="#e8731a" stroke-width="0.8" />
<circle cx="419.54" cy="414.60" r="1.10" fill="#e8731a" />
<circle cx="419.54" cy="410.70" r="0.90" fill="#e8731a" />
<circle cx="419.54" cy="422.90" r="0.90" fill="#e8731a" />
<rect x="426.77" y="412.00" width="12.50" height="10.30" fill="none" stroke="#1fb0aa" stroke-width="0.9"/>
<line x1="433.02" y1="410.50" x2="433.02" y2="412.00" stroke="#1fb0aa" stroke-width="0.8" />
<line x1="433.02" y1="422.30" x2="433.02" y2="424.00" stroke="#1fb0aa" stroke-width="0.8" />
<line x1="426.77" y1="417.15" x2="439.27" y2="417.15" stroke="#1fb0aa" stroke-width="0.8" />
<circle cx="433.02" cy="416.55" r="1.10" fill="#1fb0aa" />
<circle cx="433.02" cy="410.50" r="0.90" fill="#1fb0aa" />
<circle cx="433.02" cy="424.00" r="0.90" fill="#1fb0aa" />
<rect x="440.70" y="412.50" width="11.60" height="6.50" fill="none" stroke="#6a5acd" stroke-width="0.9"/>
<line x1="446.50" y1="410.70" x2="446.50" y2="412.50" stroke="#6a5acd" stroke-width="0.8" />
<line x1="446.50" y1="419.00" x2="446.50" y2="421.80" stroke="#6a5acd" stroke-width="0.8" />
<line x1="440.70" y1="415.75" x2="452.30" y2="415.75" stroke="#6a5acd" stroke-width="0.8" />
<circle cx="446.50" cy="415.15" r="1.10" fill="#6a5acd" />
<circle cx="446.50" cy="410.70" r="0.90" fill="#6a5acd" />
<circle cx="446.50" cy="421.80" r="0.90" fill="#6a5acd" />
<rect x="454.23" y="415.70" width="11.50" height="4.30" fill="none" stroke="#a88a7a" stroke-width="0.9"/>
<line x1="459.98" y1="414.50" x2="459.98" y2="415.70" stroke="#a88a7a" stroke-width="0.8" />
<line x1="459.98" y1="420.00" x2="459.98" y2="424.50" stroke="#a88a7a" stroke-width="0.8" />
<line x1="454.23" y1="417.85" x2="465.73" y2="417.85" stroke="#a88a7a" stroke-width="0.8" />
<circle cx="459.98" cy="417.25" r="1.10" fill="#a88a7a" />
<circle cx="459.98" cy="414.50" r="0.90" fill="#a88a7a" />
<circle cx="459.98" cy="424.50" r="0.90" fill="#a88a7a" />
<path d="M71.50,34.50L65.59,30.21 M65.59,30.21L67.85,23.27 M67.85,23.27L75.15,23.27 M75.15,23.27L77.41,30.21 M77.41,30.21L71.50,34.50 M67.85,23.27L62.97,17.84 M62.97,17.84L55.83,19.36 M55.83,19.36L53.57,26.30 M53.57,26.30L58.45,31.73 M58.45,31.73L65.59,30.21 M77.41,30.21L84.55,31.73 M84.55,31.73L89.43,26.30 M89.43,26.30L87.18,19.36 M87.18,19.36L80.03,17.84 M80.03,17.84L75.15,23.27 M65.89,23.27L62.76,19.80 M56.81,21.06L55.36,25.50 M59.44,30.03L64.01,29.05 M78.99,29.05L83.56,30.03 M87.64,25.50L86.19,21.06 M80.24,19.79L77.11,23.27 M71.50,34.50L71.50,39.60 M71.50,39.60L64.80,43.60 M71.50,39.60L76.40,42.40 M64.80,43.60L59.60,41.00 M62.80,40.20L62.80,47.00 M76.40,39.60L76.40,47.00" stroke="#4d4d4d" stroke-width="0.95" fill="none" stroke-linecap="round"/>
<text x="71.50" y="36.54" font-family='"Liberation Sans", Arial, sans-serif' font-size="5.4" font-weight="normal" text-anchor="middle" fill="#333" stroke="#fff" stroke-width="1.6" paint-order="stroke">N</text>
<text x="78.00" y="48.80" font-family='"Liberation Sans", Arial, sans-serif' font-size="5.0" font-weight="normal" text-anchor="start" fill="#333" >n</text>
<text x="71.50" y="56.90" font-family='"Liberation Sans", Arial, sans-serif' font-size="7.0" font-weight="bold" text-anchor="middle" fill="#111" stroke="#111" stroke-width="0.2" textLength="13.4" lengthAdjust="spacingAndGlyphs">PVK</text>
<path d="M51.50,57.70L47.95,63.85 M47.95,63.85L40.85,63.85 M40.85,63.85L37.30,57.70 M37.30,57.70L40.85,51.55 M40.85,51.55L47.95,51.55 M47.95,51.55L51.50,57.70 M49.65,58.11L47.38,62.04 M41.42,62.04L39.15,58.11 M42.13,52.95L46.67,52.95 M40.85,51.55L37.40,44.70 M37.40,44.70L34.40,39.50 M37.40,44.70L41.40,39.80 M37.40,44.70L31.00,45.30 M47.95,63.85L51.50,70.70 M51.50,70.70L58.50,70.20 M58.50,70.20L59.60,77.70 M59.60,77.70L54.20,82.60 M54.20,82.60L48.30,78.30 M48.30,78.30L51.50,70.70 M51.94,72.49L49.89,77.36 M57.89,77.77L54.43,80.90 M59.60,77.70L65.60,81.50 M92.10,57.70L95.65,63.85 M95.65,63.85L102.75,63.85 M102.75,63.85L106.30,57.70 M106.30,57.70L102.75,51.55 M102.75,51.55L95.65,51.55 M95.65,51.55L92.10,57.70 M93.95,58.11L96.22,62.04 M102.18,62.04L104.45,58.11 M101.47,52.95L96.93,52.95 M102.75,51.55L106.20,44.70 M106.20,44.70L109.20,39.50 M106.20,44.70L102.20,39.80 M106.20,44.70L112.60,45.30 M95.65,63.85L92.10,70.70 M92.10,70.70L85.10,70.20 M85.10,70.20L84.00,77.70 M84.00,77.70L89.40,82.60 M89.40,82.60L95.30,78.30 M95.30,78.30L92.10,70.70 M91.66,72.49L93.71,77.36 M85.71,77.77L89.17,80.90 M84.00,77.70L78.00,81.50 M78.04,88.70L71.80,92.30 M71.80,92.30L65.56,88.70 M65.56,88.70L65.56,81.50 M65.56,81.50L71.80,77.90 M71.80,77.90L78.04,81.50 M78.04,81.50L78.04,88.70 M76.19,88.10L72.20,90.40 M67.00,87.40L67.00,82.80 M72.20,79.80L76.19,82.10" stroke="#4d4d4d" stroke-width="0.95" fill="none" stroke-linecap="round"/>
<text x="58.50" y="72.29" font-family='"Liberation Sans", Arial, sans-serif' font-size="5.8" font-weight="normal" text-anchor="middle" fill="#333" stroke="#fff" stroke-width="1.6" paint-order="stroke">O</text>
<text x="54.20" y="84.69" font-family='"Liberation Sans", Arial, sans-serif' font-size="5.8" font-weight="normal" text-anchor="middle" fill="#333" stroke="#fff" stroke-width="1.6" paint-order="stroke">N</text>
<text x="48.30" y="80.39" font-family='"Liberation Sans", Arial, sans-serif' font-size="5.8" font-weight="normal" text-anchor="middle" fill="#333" stroke="#fff" stroke-width="1.6" paint-order="stroke">N</text>
<text x="85.10" y="72.29" font-family='"Liberation Sans", Arial, sans-serif' font-size="5.8" font-weight="normal" text-anchor="middle" fill="#333" stroke="#fff" stroke-width="1.6" paint-order="stroke">O</text>
<text x="89.40" y="84.69" font-family='"Liberation Sans", Arial, sans-serif' font-size="5.8" font-weight="normal" text-anchor="middle" fill="#333" stroke="#fff" stroke-width="1.6" paint-order="stroke">N</text>
<text x="95.30" y="80.39" font-family='"Liberation Sans", Arial, sans-serif' font-size="5.8" font-weight="normal" text-anchor="middle" fill="#333" stroke="#fff" stroke-width="1.6" paint-order="stroke">N</text>
<text x="71.05" y="101.80" font-family='"Liberation Sans", Arial, sans-serif' font-size="7.8" font-weight="bold" text-anchor="middle" fill="#111" stroke="#111" stroke-width="0.2" textLength="20.1" lengthAdjust="spacingAndGlyphs">OXD-7</text>
<path d="M58.19,120.11L56.26,126.84 M56.26,126.84L49.47,128.53 M49.47,128.53L44.61,123.49 M44.61,123.49L46.54,116.76 M46.54,116.76L53.33,115.07 M53.33,115.07L58.19,120.11 M54.70,125.78L50.35,126.87 M46.30,122.67L47.54,118.36 M53.20,116.95L56.31,120.17 M44.61,123.49L39.17,124.85 M39.17,124.85L35.84,121.40 M39.17,124.85L37.85,129.46 M39.17,124.85L34.71,125.96 M58.19,120.11L65.00,118.20 M65.00,118.20L67.40,112.20 M67.40,112.20L76.60,112.20 M76.60,112.20L78.80,118.20 M78.80,118.20L71.90,122.30 M71.90,122.30L65.00,118.20 M66.45,117.53L67.99,113.69 M75.96,113.66L77.37,117.50 M98.19,123.49L93.33,128.53 M93.33,128.53L86.54,126.84 M86.54,126.84L84.61,120.11 M84.61,120.11L89.47,115.07 M89.47,115.07L96.26,116.76 M96.26,116.76L98.19,123.49 M92.45,126.87L88.10,125.78 M86.49,120.17L89.60,116.95 M95.26,118.36L96.50,122.67 M78.80,118.20L84.61,120.11 M120.70,128.95L115.97,133.84 M115.97,133.84L109.38,132.19 M109.38,132.19L107.50,125.65 M107.50,125.65L112.23,120.76 M112.23,120.76L118.82,122.41 M118.82,122.41L120.70,128.95 M118.87,128.88L115.85,132.01 M110.35,130.64L109.15,126.46 M113.08,122.38L117.31,123.43 M98.19,123.49L107.50,125.65" stroke="#4d4d4d" stroke-width="0.95" fill="none" stroke-linecap="round"/>
<text x="67.40" y="114.29" font-family='"Liberation Sans", Arial, sans-serif' font-size="5.8" font-weight="normal" text-anchor="middle" fill="#333" stroke="#fff" stroke-width="1.6" paint-order="stroke">N</text>
<text x="76.60" y="114.29" font-family='"Liberation Sans", Arial, sans-serif' font-size="5.8" font-weight="normal" text-anchor="middle" fill="#333" stroke="#fff" stroke-width="1.6" paint-order="stroke">N</text>
<text x="71.90" y="124.39" font-family='"Liberation Sans", Arial, sans-serif' font-size="5.8" font-weight="normal" text-anchor="middle" fill="#333" stroke="#fff" stroke-width="1.6" paint-order="stroke">O</text>
<text x="70.70" y="142.20" font-family='"Liberation Sans", Arial, sans-serif' font-size="7.4" font-weight="bold" text-anchor="middle" fill="#111" stroke="#111" stroke-width="0.2" textLength="13.6" lengthAdjust="spacingAndGlyphs">PBD</text>
<path d="M66.00,210.70L78.50,210.20 M78.50,210.20L81.70,221.00 M81.70,221.00L72.70,225.70 M72.70,225.70L63.00,221.00 M63.00,221.00L66.00,210.70 M66.90,212.97L64.98,219.57 M77.64,212.57L79.69,219.48 M78.50,210.20L79.30,204.50 M79.30,204.50L82.90,202.00 M82.90,202.00L93.20,202.50 M93.20,202.50L98.00,194.60 M98.00,194.60L108.70,194.60 M108.70,194.60L114.50,186.80 M114.50,186.80L125.00,186.80 M63.00,221.00L56.00,222.50 M81.70,221.00L89.00,222.50 M59.30,215.00L59.30,228.50 M87.00,215.00L87.00,228.50 M59.30,215.00L60.80,215.00 M59.30,228.50L60.80,228.50 M87.00,215.00L85.50,215.00 M87.00,228.50L85.50,228.50" stroke="#6a6a6a" stroke-width="0.75" fill="none" stroke-linecap="round"/>
<text x="72.70" y="227.83" font-family='"Liberation Sans", Arial, sans-serif' font-size="6.2" font-weight="normal" text-anchor="middle" fill="#333" stroke="#fff" stroke-width="1.6" paint-order="stroke">S</text>
<text x="90.60" y="230.00" font-family='"Liberation Sans", Arial, sans-serif' font-size="6.2" font-weight="normal" text-anchor="start" fill="#333" >n</text>
<text x="73.10" y="238.10" font-family='"Liberation Serif", "Times New Roman", serif' font-size="7.6" font-weight="bold" text-anchor="middle" fill="#111" stroke="#111" stroke-width="0.2" textLength="16.4" lengthAdjust="spacingAndGlyphs">P3HT</text>
<path d="M41.40,277.00L48.33,281.00 M48.33,281.00L48.33,289.00 M48.33,289.00L41.40,293.00 M41.40,293.00L34.47,289.00 M34.47,289.00L34.47,281.00 M34.47,281.00L41.40,277.00 M41.85,279.11L46.28,281.67 M46.28,288.33L41.85,290.89 M36.07,287.56L36.07,282.44 M41.40,277.00L41.40,268.60 M41.40,293.00L41.40,301.60 M34.47,289.00L27.00,294.60 M48.33,289.00L55.80,294.60 M34.47,281.00L30.00,278.50 M48.33,281.00L52.80,278.50 M41.40,268.60L37.33,264.60 M37.33,264.60L38.88,258.14 M38.88,258.14L43.92,258.14 M43.92,258.14L45.47,264.60 M45.47,264.60L41.40,268.60 M38.88,258.14L35.52,253.08 M35.52,253.08L30.60,254.50 M30.60,254.50L29.04,260.96 M29.04,260.96L32.41,266.02 M32.41,266.02L37.33,264.60 M45.47,264.60L50.39,266.02 M50.39,266.02L53.76,260.96 M53.76,260.96L52.21,254.50 M52.21,254.50L47.28,253.08 M47.28,253.08L43.92,258.14 M37.53,258.14L35.38,254.90 M31.27,256.08L30.28,260.22 M33.08,264.43L36.23,263.53 M46.57,263.53L49.72,264.43 M52.52,260.22L51.53,256.08 M47.42,254.90L45.27,258.14 M41.40,301.60L45.30,305.89 M45.30,305.89L43.81,312.83 M43.81,312.83L38.99,312.83 M38.99,312.83L37.50,305.89 M37.50,305.89L41.40,301.60 M43.81,312.83L47.03,318.26 M47.03,318.26L51.75,316.74 M51.75,316.74L53.23,309.80 M53.23,309.80L50.01,304.37 M50.01,304.37L45.30,305.89 M37.50,305.89L32.79,304.37 M32.79,304.37L29.57,309.80 M29.57,309.80L31.05,316.74 M31.05,316.74L35.77,318.26 M35.77,318.26L38.99,312.83 M45.11,312.83L47.17,316.30 M51.10,315.04L52.05,310.60 M49.36,306.07L46.35,307.05 M36.45,307.05L33.44,306.07 M30.75,310.60L31.70,315.04 M35.63,316.31L37.69,312.83 M27.00,294.60L25.39,300.25 M25.39,300.25L18.65,302.51 M18.65,302.51L16.09,298.26 M16.09,298.26L21.25,293.37 M21.25,293.37L27.00,294.60 M18.65,302.51L15.71,308.15 M15.71,308.15L19.51,311.53 M19.51,311.53L26.25,309.27 M26.25,309.27L29.19,303.63 M29.19,303.63L25.39,300.25 M21.25,293.37L20.05,288.42 M20.05,288.42L13.69,288.37 M13.69,288.37L8.53,293.26 M8.53,293.26L9.73,298.21 M9.73,298.21L16.09,298.26 M19.34,303.66L17.46,307.27 M20.63,310.09L24.94,308.64 M27.39,303.94L24.96,301.77 M19.71,293.04L18.94,289.87 M13.64,289.83L10.33,292.96 M11.33,297.08L15.41,297.11 M55.80,294.60L61.55,293.37 M61.55,293.37L66.71,298.26 M66.71,298.26L64.15,302.51 M64.15,302.51L57.41,300.25 M57.41,300.25L55.80,294.60 M66.71,298.26L73.07,298.21 M73.07,298.21L74.27,293.26 M74.27,293.26L69.11,288.37 M69.11,288.37L62.75,288.42 M62.75,288.42L61.55,293.37 M57.41,300.25L53.61,303.63 M53.61,303.63L56.55,309.27 M56.55,309.27L63.29,311.53 M63.29,311.53L67.09,308.15 M67.09,308.15L64.15,302.51 M67.39,297.11L71.47,297.08 M72.47,292.96L69.16,289.83 M63.86,289.87L63.09,293.04 M57.84,301.77L55.41,303.94 M57.86,308.64L62.17,310.09 M65.34,307.27L63.46,303.66" stroke="#6a6a6a" stroke-width="0.75" fill="none" stroke-linecap="round"/>
<text x="41.40" y="270.26" font-family='"Liberation Serif", "Times New Roman", serif' font-size="4.6" font-weight="normal" text-anchor="middle" fill="#333" stroke="#fff" stroke-width="1.6" paint-order="stroke">N</text>
<text x="41.40" y="303.26" font-family='"Liberation Serif", "Times New Roman", serif' font-size="4.6" font-weight="normal" text-anchor="middle" fill="#333" stroke="#fff" stroke-width="1.6" paint-order="stroke">N</text>
<text x="27.00" y="296.26" font-family='"Liberation Serif", "Times New Roman", serif' font-size="4.6" font-weight="normal" text-anchor="middle" fill="#333" stroke="#fff" stroke-width="1.6" paint-order="stroke">N</text>
<text x="55.80" y="296.26" font-family='"Liberation Serif", "Times New Roman", serif' font-size="4.6" font-weight="normal" text-anchor="middle" fill="#333" stroke="#fff" stroke-width="1.6" paint-order="stroke">N</text>
<text x="25.20" y="278.37" font-family='"Liberation Serif", "Times New Roman", serif' font-size="5.2" font-weight="normal" text-anchor="middle" fill="#333" stroke="#fff" stroke-width="1.6" paint-order="stroke">CN</text>
<text x="58.20" y="278.37" font-family='"Liberation Serif", "Times New Roman", serif' font-size="5.2" font-weight="normal" text-anchor="middle" fill="#333" stroke="#fff" stroke-width="1.6" paint-order="stroke">CN</text>
<text x="42.00" y="331.20" font-family='"Liberation Serif", "Times New Roman", serif' font-size="7.4" font-weight="bold" text-anchor="middle" fill="#111" stroke="#111" stroke-width="0.2" textLength="22" lengthAdjust="spacingAndGlyphs">4CzIPN</text>
<path d="M116.40,286.00L112.30,293.10 M112.30,293.10L104.10,293.10 M104.10,293.10L100.00,286.00 M100.00,286.00L104.10,278.90 M104.10,278.90L112.30,278.90 M112.30,278.90L116.40,286.00 M114.24,286.46L111.62,291.00 M104.78,291.00L102.16,286.46 M105.58,280.54L110.82,280.54 M104.10,278.90L101.30,275.30 M112.30,278.90L115.10,275.30 M104.10,293.10L100.20,301.10 M112.30,293.10L116.40,301.10 M100.20,301.10L101.65,307.05 M101.65,307.05L96.62,312.23 M96.62,312.23L92.05,309.49 M92.05,309.49L94.27,302.61 M94.27,302.61L100.20,301.10 M96.62,312.23L96.84,318.78 M96.84,318.78L102.10,320.15 M102.10,320.15L107.14,314.96 M107.14,314.96L106.91,308.41 M106.91,308.41L101.65,307.05 M94.27,302.61L90.59,298.61 M90.59,298.61L84.70,301.48 M84.70,301.48L82.49,308.36 M82.49,308.36L86.16,312.37 M86.16,312.37L92.05,309.49 M97.85,312.97L97.99,317.16 M102.37,318.30L105.60,314.98 M105.41,309.52L102.05,308.65 M92.67,303.01L90.32,300.45 M85.41,302.85L83.99,307.25 M87.05,310.59L90.82,308.75 M116.40,301.10L122.33,302.61 M122.33,302.61L124.55,309.49 M124.55,309.49L119.98,312.23 M119.98,312.23L114.95,307.05 M114.95,307.05L116.40,301.10 M124.55,309.49L130.44,312.37 M130.44,312.37L134.11,308.36 M134.11,308.36L131.90,301.48 M131.90,301.48L126.01,298.61 M126.01,298.61L122.33,302.61 M114.95,307.05L109.69,308.41 M109.69,308.41L109.46,314.96 M109.46,314.96L114.50,320.15 M114.50,320.15L119.76,318.78 M119.76,318.78L119.98,312.23 M125.78,308.75L129.55,310.59 M132.61,307.26L131.19,302.85 M126.28,300.45L123.93,303.01 M114.55,308.65L111.19,309.52 M111.00,314.98L114.22,318.30 M118.61,317.16L118.75,312.97" stroke="#6a6a6a" stroke-width="0.75" fill="none" stroke-linecap="round"/>
<text x="100.20" y="302.76" font-family='"Liberation Serif", "Times New Roman", serif' font-size="4.6" font-weight="normal" text-anchor="middle" fill="#333" stroke="#fff" stroke-width="1.6" paint-order="stroke">N</text>
<text x="116.40" y="302.76" font-family='"Liberation Serif", "Times New Roman", serif' font-size="4.6" font-weight="normal" text-anchor="middle" fill="#333" stroke="#fff" stroke-width="1.6" paint-order="stroke">N</text>
<text x="98.40" y="274.17" font-family='"Liberation Serif", "Times New Roman", serif' font-size="5.2" font-weight="normal" text-anchor="middle" fill="#333" stroke="#fff" stroke-width="1.6" paint-order="stroke">NC</text>
<text x="118.90" y="274.17" font-family='"Liberation Serif", "Times New Roman", serif' font-size="5.2" font-weight="normal" text-anchor="middle" fill="#333" stroke="#fff" stroke-width="1.6" paint-order="stroke">CN</text>
<text x="109.00" y="331.20" font-family='"Liberation Serif", "Times New Roman", serif' font-size="7.4" font-weight="bold" text-anchor="middle" fill="#111" stroke="#111" stroke-width="0.2" textLength="20" lengthAdjust="spacingAndGlyphs">2CzPN</text>
</svg>
</body></html>
